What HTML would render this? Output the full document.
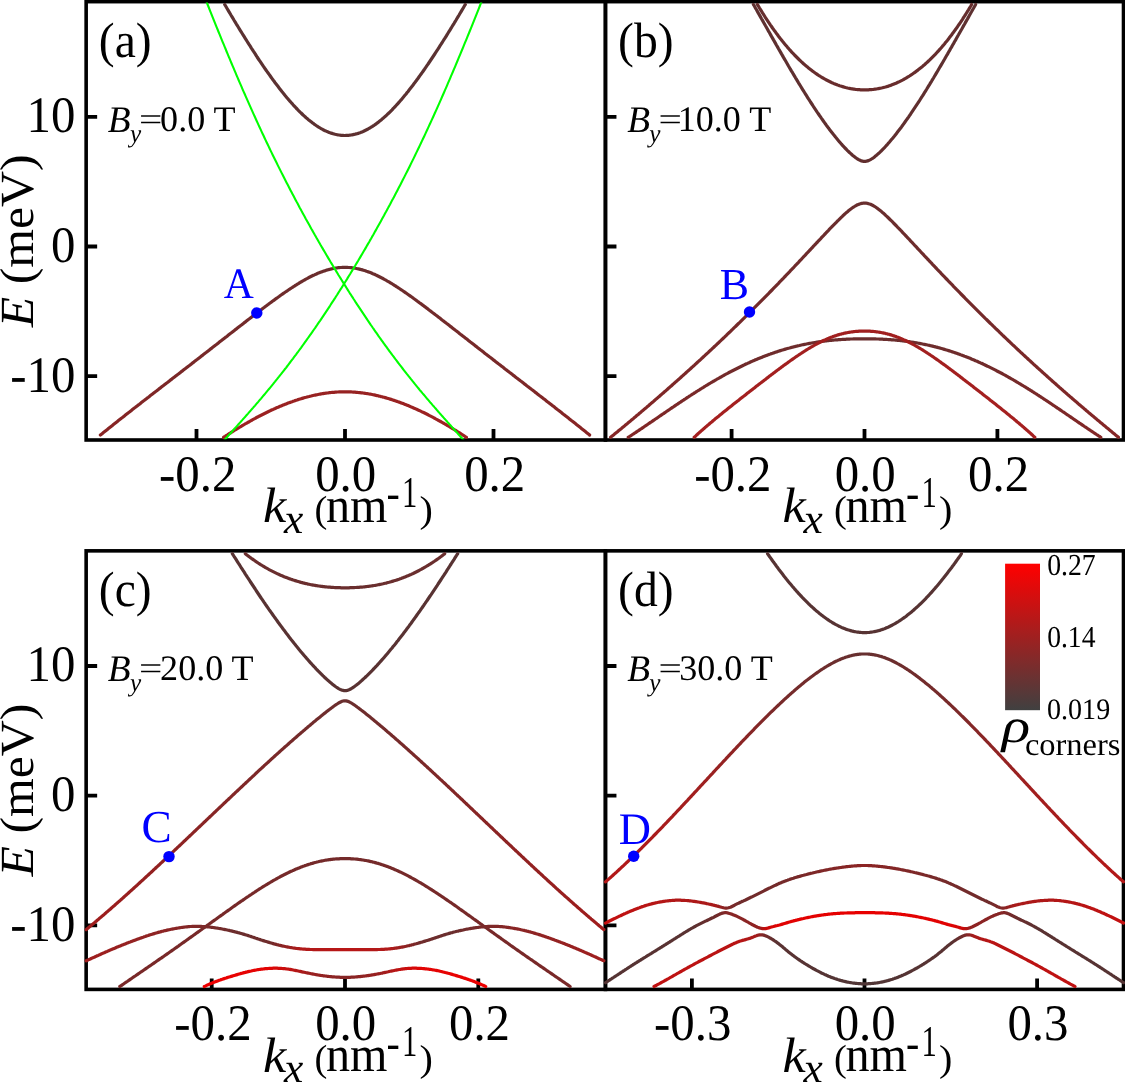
<!DOCTYPE html><html><head><meta charset="utf-8"><title>Band structure</title><style>html,body{margin:0;padding:0;background:#fff;overflow:hidden;}svg{display:block;}text{font-family:"Liberation Serif","Times New Roman",serif;text-rendering:geometricPrecision;}</style></head><body>
<svg width="1125" height="1082" viewBox="0 0 1125 1082">
<rect width="100%" height="100%" fill="#fff"/>
<defs>
<clipPath id="cpa"><rect x="81.15" y="2.45" width="529.30" height="436.75"/></clipPath>
<clipPath id="cpb"><rect x="600.45" y="2.45" width="528.05" height="436.75"/></clipPath>
<clipPath id="cpc"><rect x="81.15" y="551.65" width="529.30" height="436.95"/></clipPath>
<clipPath id="cpd"><rect x="600.45" y="551.65" width="528.05" height="436.95"/></clipPath>
<linearGradient id="g0" gradientUnits="userSpaceOnUse" x1="86.15" y1="0" x2="605.45" y2="0">
<stop offset="0.0000" stop-color="#573535"/>
<stop offset="0.4985" stop-color="#5e3030"/>
<stop offset="0.9972" stop-color="#573535"/>
</linearGradient>
<linearGradient id="g1" gradientUnits="userSpaceOnUse" x1="86.15" y1="0" x2="605.45" y2="0">
<stop offset="0.0000" stop-color="#8c2323"/>
<stop offset="0.1807" stop-color="#7a2828"/>
<stop offset="0.4985" stop-color="#682e2e"/>
<stop offset="0.8162" stop-color="#7a2828"/>
<stop offset="0.9972" stop-color="#8c2323"/>
</linearGradient>
<linearGradient id="g2" gradientUnits="userSpaceOnUse" x1="86.15" y1="0" x2="605.45" y2="0">
<stop offset="0.0000" stop-color="#a82020"/>
<stop offset="0.4985" stop-color="#962222"/>
<stop offset="0.9972" stop-color="#a82020"/>
</linearGradient>
<linearGradient id="g3" gradientUnits="userSpaceOnUse" x1="605.45" y1="0" x2="1123.50" y2="0">
<stop offset="0.0011" stop-color="#5e3030"/>
<stop offset="0.4991" stop-color="#6a2c2c"/>
<stop offset="0.9990" stop-color="#5e3030"/>
</linearGradient>
<linearGradient id="g4" gradientUnits="userSpaceOnUse" x1="605.45" y1="0" x2="1123.50" y2="0">
<stop offset="0.0011" stop-color="#583434"/>
<stop offset="0.4991" stop-color="#622e2e"/>
<stop offset="0.9990" stop-color="#583434"/>
</linearGradient>
<linearGradient id="g5" gradientUnits="userSpaceOnUse" x1="605.45" y1="0" x2="1123.50" y2="0">
<stop offset="0.0011" stop-color="#862626"/>
<stop offset="0.2790" stop-color="#742a2a"/>
<stop offset="0.4991" stop-color="#682e2e"/>
<stop offset="0.7211" stop-color="#742a2a"/>
<stop offset="0.9990" stop-color="#862626"/>
</linearGradient>
<linearGradient id="g6" gradientUnits="userSpaceOnUse" x1="605.45" y1="0" x2="1123.50" y2="0">
<stop offset="0.0011" stop-color="#862626"/>
<stop offset="0.2790" stop-color="#702b2b"/>
<stop offset="0.4991" stop-color="#6a2e2e"/>
<stop offset="0.7211" stop-color="#702b2b"/>
<stop offset="0.9990" stop-color="#862626"/>
</linearGradient>
<linearGradient id="g7" gradientUnits="userSpaceOnUse" x1="605.45" y1="0" x2="1123.50" y2="0">
<stop offset="0.0011" stop-color="#a82020"/>
<stop offset="0.4991" stop-color="#a01f1f"/>
<stop offset="0.9990" stop-color="#a82020"/>
</linearGradient>
<linearGradient id="g8" gradientUnits="userSpaceOnUse" x1="86.15" y1="0" x2="605.45" y2="0">
<stop offset="0.0000" stop-color="#6a2e2e"/>
<stop offset="0.4985" stop-color="#6a2e2e"/>
<stop offset="0.9972" stop-color="#6a2e2e"/>
</linearGradient>
<linearGradient id="g9" gradientUnits="userSpaceOnUse" x1="86.15" y1="0" x2="605.45" y2="0">
<stop offset="0.0000" stop-color="#553434"/>
<stop offset="0.4985" stop-color="#5a3232"/>
<stop offset="0.9972" stop-color="#553434"/>
</linearGradient>
<linearGradient id="g10" gradientUnits="userSpaceOnUse" x1="86.15" y1="0" x2="605.45" y2="0">
<stop offset="0.0000" stop-color="#a01c1c"/>
<stop offset="0.2192" stop-color="#8a2424"/>
<stop offset="0.4985" stop-color="#6a2e2e"/>
<stop offset="0.7777" stop-color="#8a2424"/>
<stop offset="0.9972" stop-color="#a01c1c"/>
</linearGradient>
<linearGradient id="g11" gradientUnits="userSpaceOnUse" x1="86.15" y1="0" x2="605.45" y2="0">
<stop offset="0.0000" stop-color="#7a2828"/>
<stop offset="0.4985" stop-color="#742a2a"/>
<stop offset="0.9972" stop-color="#7a2828"/>
</linearGradient>
<linearGradient id="g12" gradientUnits="userSpaceOnUse" x1="86.15" y1="0" x2="605.45" y2="0">
<stop offset="0.0000" stop-color="#a01e1e"/>
<stop offset="0.1807" stop-color="#882626"/>
<stop offset="0.2963" stop-color="#6a2e2e"/>
<stop offset="0.3540" stop-color="#702c2c"/>
<stop offset="0.4118" stop-color="#b01a1a"/>
<stop offset="0.4985" stop-color="#b81616"/>
<stop offset="0.5851" stop-color="#b01a1a"/>
<stop offset="0.6429" stop-color="#702c2c"/>
<stop offset="0.7007" stop-color="#6a2e2e"/>
<stop offset="0.8162" stop-color="#882626"/>
<stop offset="0.9972" stop-color="#a01e1e"/>
</linearGradient>
<linearGradient id="g13" gradientUnits="userSpaceOnUse" x1="86.15" y1="0" x2="605.45" y2="0">
<stop offset="0.2192" stop-color="#ee0000"/>
<stop offset="0.3502" stop-color="#e20404"/>
<stop offset="0.3925" stop-color="#c01212"/>
<stop offset="0.4311" stop-color="#9a2020"/>
<stop offset="0.4985" stop-color="#862626"/>
<stop offset="0.5659" stop-color="#9a2020"/>
<stop offset="0.6044" stop-color="#c01212"/>
<stop offset="0.6467" stop-color="#e20404"/>
<stop offset="0.7777" stop-color="#ee0000"/>
</linearGradient>
<linearGradient id="g14" gradientUnits="userSpaceOnUse" x1="605.45" y1="0" x2="1123.50" y2="0">
<stop offset="0.0011" stop-color="#553434"/>
<stop offset="0.4991" stop-color="#573333"/>
<stop offset="0.9990" stop-color="#553434"/>
</linearGradient>
<linearGradient id="g15" gradientUnits="userSpaceOnUse" x1="605.45" y1="0" x2="1123.50" y2="0">
<stop offset="0.0011" stop-color="#b41818"/>
<stop offset="0.1825" stop-color="#a01f1f"/>
<stop offset="0.3369" stop-color="#782a2a"/>
<stop offset="0.4991" stop-color="#663030"/>
<stop offset="0.6632" stop-color="#782a2a"/>
<stop offset="0.8176" stop-color="#a01f1f"/>
<stop offset="0.9990" stop-color="#b41818"/>
</linearGradient>
<linearGradient id="g16" gradientUnits="userSpaceOnUse" x1="605.45" y1="0" x2="1123.50" y2="0">
<stop offset="0.0011" stop-color="#c41010"/>
<stop offset="0.1053" stop-color="#b41616"/>
<stop offset="0.2115" stop-color="#a81a1a"/>
<stop offset="0.2346" stop-color="#822828"/>
<stop offset="0.2597" stop-color="#702c2c"/>
<stop offset="0.3562" stop-color="#762a2a"/>
<stop offset="0.4991" stop-color="#8c2424"/>
<stop offset="0.6439" stop-color="#762a2a"/>
<stop offset="0.7404" stop-color="#702c2c"/>
<stop offset="0.7655" stop-color="#822828"/>
<stop offset="0.7886" stop-color="#a81a1a"/>
<stop offset="0.8948" stop-color="#b41616"/>
<stop offset="0.9990" stop-color="#c41010"/>
</linearGradient>
<linearGradient id="g17" gradientUnits="userSpaceOnUse" x1="605.45" y1="0" x2="1123.50" y2="0">
<stop offset="0.0011" stop-color="#553434"/>
<stop offset="0.1632" stop-color="#5a3232"/>
<stop offset="0.2115" stop-color="#6e2c2c"/>
<stop offset="0.2346" stop-color="#862626"/>
<stop offset="0.2694" stop-color="#8a2424"/>
<stop offset="0.2945" stop-color="#902222"/>
<stop offset="0.3099" stop-color="#c80a0a"/>
<stop offset="0.3331" stop-color="#e00202"/>
<stop offset="0.4991" stop-color="#e80000"/>
<stop offset="0.6670" stop-color="#e00202"/>
<stop offset="0.6902" stop-color="#c80a0a"/>
<stop offset="0.7056" stop-color="#902222"/>
<stop offset="0.7307" stop-color="#8a2424"/>
<stop offset="0.7655" stop-color="#862626"/>
<stop offset="0.7886" stop-color="#6e2c2c"/>
<stop offset="0.8369" stop-color="#5a3232"/>
<stop offset="0.9990" stop-color="#553434"/>
</linearGradient>
<linearGradient id="g18" gradientUnits="userSpaceOnUse" x1="605.45" y1="0" x2="1123.50" y2="0">
<stop offset="0.0011" stop-color="#c41010"/>
<stop offset="0.2597" stop-color="#b81414"/>
<stop offset="0.2906" stop-color="#a41c1c"/>
<stop offset="0.3061" stop-color="#7a2a2a"/>
<stop offset="0.3292" stop-color="#5a3232"/>
<stop offset="0.4991" stop-color="#503636"/>
<stop offset="0.6709" stop-color="#5a3232"/>
<stop offset="0.6940" stop-color="#7a2a2a"/>
<stop offset="0.7095" stop-color="#a41c1c"/>
<stop offset="0.7404" stop-color="#b81414"/>
<stop offset="0.9990" stop-color="#c41010"/>
</linearGradient>
<linearGradient id="cbg" x1="0" y1="0" x2="0" y2="1"><stop offset="0" stop-color="#ff0000"/><stop offset="1" stop-color="#404040"/></linearGradient>
</defs>
<rect x="86.15" y="1.65" width="519.30" height="438.35" fill="none" stroke="#000" stroke-width="3.6"/>
<rect x="605.45" y="1.65" width="518.05" height="438.35" fill="none" stroke="#000" stroke-width="3.6"/>
<rect x="86.15" y="550.85" width="519.30" height="438.55" fill="none" stroke="#000" stroke-width="3.6"/>
<rect x="605.45" y="550.85" width="518.05" height="438.55" fill="none" stroke="#000" stroke-width="3.6"/>
<path d="M86.15,116.80h11.0 M86.15,246.50h11.0 M86.15,376.20h11.0 M605.45,116.80h11.0 M605.45,246.50h11.0 M605.45,376.20h11.0 M86.15,666.00h11.0 M86.15,795.70h11.0 M86.15,925.40h11.0 M605.45,666.00h11.0 M605.45,795.70h11.0 M605.45,925.40h11.0 M196.5,440.00v-11.0 M345.0,440.00v-11.0 M493.5,440.00v-11.0 M731.6,440.00v-11.0 M864.5,440.00v-11.0 M997.4,440.00v-11.0 M211.7,989.40v-11.0 M345.0,989.40v-11.0 M478.3,989.40v-11.0 M691.9,989.40v-11.0 M864.5,989.40v-11.0 M1037.1,989.40v-11.0" stroke="#000" stroke-width="3.8" fill="none"/>
<g clip-path="url(#cpa)" fill="none" stroke-linecap="round" stroke-linejoin="round">
<path d="M224.7,4.5 225.2,5.3 226.2,7.0 227.2,8.7 228.2,10.4 229.2,12.1 230.2,13.8 231.2,15.5 232.2,17.1 233.2,18.8 234.2,20.5 235.2,22.1 236.2,23.8 237.2,25.4 238.2,27.0 239.2,28.7 240.2,30.3 241.2,31.9 242.2,33.5 243.2,35.1 244.2,36.7 245.2,38.3 246.2,39.9 247.2,41.5 248.2,43.1 249.2,44.7 250.2,46.2 251.2,47.8 252.2,49.3 253.2,50.9 254.2,52.4 255.2,53.9 256.1,55.4 257.1,57.0 258.1,58.5 259.1,60.0 260.1,61.4 261.1,62.9 262.1,64.4 263.1,65.9 264.1,67.3 265.1,68.8 266.1,70.2 267.1,71.6 268.1,73.0 269.1,74.4 270.1,75.8 271.1,77.2 272.1,78.6 273.1,80.0 274.1,81.3 275.1,82.7 276.1,84.0 277.1,85.3 278.1,86.6 279.1,87.9 280.1,89.2 281.1,90.5 282.1,91.8 283.1,93.0 284.1,94.2 285.1,95.5 286.1,96.7 287.1,97.9 288.1,99.1 289.1,100.2 290.1,101.4 291.1,102.5 292.1,103.6 293.1,104.8 294.1,105.8 295.1,106.9 296.1,108.0 297.1,109.0 298.1,110.1 299.1,111.1 300.1,112.1 301.1,113.0 302.1,114.0 303.1,115.0 304.1,115.9 305.1,116.8 306.1,117.7 307.1,118.5 308.1,119.4 309.1,120.2 310.1,121.0 311.1,121.8 312.1,122.6 313.1,123.3 314.1,124.1 315.1,124.8 316.1,125.5 317.1,126.1 318.1,126.8 319.1,127.4 320.1,128.0 321.1,128.6 322.1,129.1 323.1,129.7 324.1,130.2 325.1,130.7 326.1,131.1 327.1,131.6 328.1,132.0 329.1,132.4 330.1,132.8 331.1,133.1 332.1,133.4 333.1,133.7 334.1,134.0 335.1,134.3 336.1,134.5 337.1,134.7 338.1,134.9 339.1,135.0 340.1,135.2 341.1,135.3 342.1,135.4 343.1,135.4 344.1,135.5 345.1,135.5 346.1,135.4 347.1,135.4 348.1,135.3 349.1,135.3 350.1,135.1 351.1,135.0 352.1,134.8 353.1,134.7 354.1,134.4 355.1,134.2 356.1,133.9 357.1,133.7 358.1,133.4 359.1,133.0 360.1,132.7 361.1,132.3 362.1,131.9 363.1,131.5 364.1,131.0 365.1,130.5 366.1,130.0 367.1,129.5 368.1,129.0 369.1,128.4 370.1,127.8 371.1,127.2 372.1,126.6 373.1,125.9 374.1,125.3 375.1,124.6 376.1,123.9 377.1,123.1 378.1,122.4 379.1,121.6 380.1,120.8 381.1,120.0 382.1,119.1 383.1,118.3 384.1,117.4 385.1,116.5 386.1,115.6 387.1,114.7 388.1,113.7 389.1,112.8 390.1,111.8 391.1,110.8 392.1,109.8 393.1,108.7 394.1,107.7 395.1,106.6 396.1,105.5 397.1,104.4 398.1,103.3 399.1,102.2 400.1,101.0 401.1,99.9 402.1,98.7 403.1,97.5 404.1,96.3 405.1,95.1 406.1,93.9 407.1,92.6 408.1,91.4 409.1,90.1 410.1,88.8 411.1,87.5 412.1,86.2 413.1,84.9 414.1,83.6 415.1,82.3 416.1,80.9 417.1,79.6 418.1,78.2 419.1,76.8 420.1,75.4 421.1,74.0 422.1,72.6 423.1,71.2 424.1,69.8 425.1,68.3 426.1,66.9 427.1,65.4 428.1,64.0 429.1,62.5 430.1,61.0 431.1,59.5 432.1,58.0 433.1,56.5 434.1,55.0 435.1,53.5 436.1,51.9 437.1,50.4 438.1,48.9 439.1,47.3 440.1,45.7 441.1,44.2 442.1,42.6 443.1,41.0 444.1,39.4 445.1,37.9 446.1,36.3 447.1,34.7 448.1,33.0 449.1,31.4 450.1,29.8 451.1,28.2 452.1,26.5 453.1,24.9 454.1,23.3 455.1,21.6 456.1,20.0 457.1,18.3 458.1,16.6 459.1,15.0 460.1,13.3 461.1,11.6 462.1,9.9 463.1,8.2 464.1,6.5 465.1,4.8 465.3,4.5" stroke="url(#g0)" stroke-width="3.2"/>
<path d="M100.4,435.0 101.4,434.2 102.4,433.4 103.4,432.6 104.4,431.8 105.4,431.0 106.4,430.2 107.4,429.4 108.4,428.6 109.4,427.8 110.4,427.0 111.4,426.2 112.4,425.4 113.4,424.6 114.4,423.8 115.4,423.0 116.4,422.2 117.4,421.4 118.4,420.6 119.4,419.8 120.4,419.0 121.4,418.2 122.4,417.5 123.4,416.7 124.4,415.9 125.4,415.1 126.4,414.3 127.4,413.5 128.4,412.7 129.4,412.0 130.4,411.2 131.4,410.4 132.4,409.6 133.4,408.8 134.4,408.0 135.4,407.3 136.4,406.5 137.4,405.7 138.4,404.9 139.4,404.2 140.4,403.4 141.4,402.6 142.4,401.8 143.4,401.0 144.4,400.3 145.4,399.5 146.4,398.7 147.4,397.9 148.4,397.2 149.4,396.4 150.4,395.6 151.4,394.8 152.4,394.1 153.4,393.3 154.4,392.5 155.4,391.7 156.4,391.0 157.4,390.2 158.4,389.4 159.4,388.6 160.4,387.9 161.4,387.1 162.4,386.3 163.4,385.6 164.4,384.8 165.4,384.0 166.4,383.2 167.4,382.5 168.4,381.7 169.4,380.9 170.4,380.1 171.4,379.4 172.4,378.6 173.4,377.8 174.4,377.1 175.4,376.3 176.4,375.5 177.4,374.7 178.4,374.0 179.4,373.2 180.4,372.4 181.4,371.6 182.4,370.9 183.4,370.1 184.4,369.3 185.4,368.6 186.4,367.8 187.4,367.0 188.4,366.2 189.4,365.5 190.4,364.7 191.4,363.9 192.4,363.1 193.4,362.4 194.4,361.6 195.4,360.8 196.4,360.0 197.4,359.3 198.4,358.5 199.4,357.7 200.4,356.9 201.4,356.1 202.4,355.4 203.4,354.6 204.4,353.8 205.4,353.0 206.4,352.3 207.4,351.5 208.4,350.7 209.4,349.9 210.4,349.1 211.4,348.4 212.4,347.6 213.4,346.8 214.4,346.0 215.4,345.2 216.4,344.5 217.4,343.7 218.4,342.9 219.4,342.1 220.4,341.3 221.4,340.6 222.4,339.8 223.4,339.0 224.4,338.2 225.4,337.4 226.4,336.7 227.4,335.9 228.4,335.1 229.4,334.3 230.4,333.5 231.4,332.8 232.4,332.0 233.4,331.2 234.4,330.4 235.4,329.6 236.4,328.9 237.4,328.1 238.4,327.3 239.4,326.5 240.4,325.7 241.4,325.0 242.4,324.2 243.4,323.4 244.4,322.6 245.4,321.9 246.4,321.1 247.4,320.3 248.4,319.5 249.4,318.8 250.4,318.0 251.4,317.2 252.4,316.4 253.4,315.7 254.4,314.9 255.4,314.1 256.4,313.4 257.4,312.6 258.4,311.8 259.4,311.1 260.4,310.3 261.4,309.6 262.4,308.8 263.4,308.0 264.4,307.3 265.4,306.5 266.4,305.8 267.4,305.0 268.4,304.3 269.4,303.5 270.4,302.8 271.4,302.1 272.4,301.3 273.4,300.6 274.4,299.9 275.4,299.1 276.4,298.4 277.4,297.7 278.4,297.0 279.4,296.3 280.4,295.5 281.4,294.8 282.4,294.1 283.4,293.4 284.4,292.7 285.4,292.0 286.4,291.4 287.4,290.7 288.4,290.0 289.4,289.3 290.4,288.7 291.4,288.0 292.4,287.4 293.4,286.7 294.4,286.1 295.4,285.4 296.4,284.8 297.4,284.2 298.4,283.6 299.4,282.9 300.4,282.3 301.4,281.8 302.4,281.2 303.4,280.6 304.4,280.0 305.4,279.5 306.4,278.9 307.4,278.4 308.4,277.8 309.4,277.3 310.4,276.8 311.4,276.3 312.4,275.8 313.4,275.3 314.4,274.9 315.4,274.4 316.4,274.0 317.4,273.5 318.4,273.1 319.4,272.7 320.4,272.3 321.4,271.9 322.4,271.6 323.4,271.2 324.4,270.9 325.4,270.6 326.4,270.2 327.4,269.9 328.4,269.7 329.4,269.4 330.4,269.2 331.4,268.9 332.4,268.7 333.4,268.5 334.4,268.3 335.4,268.1 336.4,268.0 337.4,267.8 338.4,267.7 339.4,267.6 340.4,267.5 341.4,267.5 342.4,267.4 343.4,267.4 344.4,267.4 345.4,267.4 346.4,267.4 347.4,267.4 348.4,267.5 349.4,267.5 350.4,267.6 351.4,267.7 352.4,267.8 353.4,268.0 354.4,268.1 355.4,268.3 356.4,268.5 357.4,268.7 358.4,268.9 359.4,269.1 360.4,269.4 361.4,269.6 362.4,269.9 363.4,270.2 364.4,270.5 365.4,270.8 366.4,271.2 367.4,271.5 368.4,271.9 369.4,272.2 370.4,272.6 371.4,273.0 372.4,273.5 373.4,273.9 374.4,274.3 375.4,274.8 376.4,275.2 377.4,275.7 378.4,276.2 379.4,276.7 380.4,277.2 381.4,277.7 382.4,278.3 383.4,278.8 384.4,279.4 385.4,279.9 386.4,280.5 387.4,281.1 388.4,281.6 389.4,282.2 390.4,282.8 391.4,283.4 392.4,284.0 393.4,284.7 394.4,285.3 395.4,285.9 396.4,286.6 397.4,287.2 398.4,287.9 399.4,288.5 400.4,289.2 401.4,289.9 402.4,290.5 403.4,291.2 404.4,291.9 405.4,292.6 406.4,293.3 407.4,294.0 408.4,294.7 409.4,295.4 410.4,296.1 411.4,296.8 412.4,297.5 413.4,298.3 414.4,299.0 415.4,299.7 416.4,300.4 417.4,301.2 418.4,301.9 419.4,302.7 420.4,303.4 421.4,304.1 422.4,304.9 423.4,305.6 424.4,306.4 425.4,307.1 426.4,307.9 427.4,308.6 428.4,309.4 429.4,310.2 430.4,310.9 431.4,311.7 432.4,312.5 433.4,313.2 434.4,314.0 435.4,314.8 436.4,315.5 437.4,316.3 438.4,317.1 439.4,317.8 440.4,318.6 441.4,319.4 442.4,320.2 443.4,320.9 444.4,321.7 445.4,322.5 446.4,323.3 447.4,324.0 448.4,324.8 449.4,325.6 450.4,326.4 451.4,327.1 452.4,327.9 453.4,328.7 454.4,329.5 455.4,330.3 456.4,331.0 457.4,331.8 458.4,332.6 459.4,333.4 460.4,334.2 461.4,334.9 462.4,335.7 463.4,336.5 464.4,337.3 465.4,338.1 466.4,338.8 467.4,339.6 468.4,340.4 469.4,341.2 470.4,342.0 471.4,342.7 472.4,343.5 473.4,344.3 474.4,345.1 475.4,345.9 476.4,346.6 477.4,347.4 478.4,348.2 479.4,349.0 480.4,349.8 481.4,350.5 482.4,351.3 483.4,352.1 484.4,352.9 485.4,353.7 486.4,354.4 487.4,355.2 488.4,356.0 489.4,356.8 490.4,357.5 491.4,358.3 492.4,359.1 493.4,359.9 494.4,360.6 495.4,361.4 496.4,362.2 497.4,363.0 498.4,363.8 499.4,364.5 500.4,365.3 501.4,366.1 502.4,366.8 503.4,367.6 504.4,368.4 505.4,369.2 506.4,369.9 507.4,370.7 508.4,371.5 509.4,372.3 510.4,373.0 511.4,373.8 512.4,374.6 513.4,375.4 514.4,376.1 515.4,376.9 516.4,377.7 517.4,378.4 518.4,379.2 519.4,380.0 520.4,380.8 521.4,381.5 522.4,382.3 523.4,383.1 524.4,383.9 525.4,384.6 526.4,385.4 527.4,386.2 528.4,386.9 529.4,387.7 530.4,388.5 531.4,389.3 532.4,390.0 533.4,390.8 534.4,391.6 535.4,392.4 536.4,393.1 537.4,393.9 538.4,394.7 539.4,395.5 540.4,396.2 541.4,397.0 542.4,397.8 543.4,398.6 544.4,399.3 545.4,400.1 546.4,400.9 547.4,401.7 548.4,402.4 549.4,403.2 550.4,404.0 551.4,404.8 552.4,405.6 553.4,406.3 554.4,407.1 555.4,407.9 556.4,408.7 557.4,409.5 558.4,410.2 559.4,411.0 560.4,411.8 561.4,412.6 562.4,413.4 563.4,414.2 564.4,414.9 565.4,415.7 566.4,416.5 567.4,417.3 568.4,418.1 569.4,418.9 570.4,419.7 571.4,420.5 572.4,421.2 573.4,422.0 574.4,422.8 575.4,423.6 576.4,424.4 577.4,425.2 578.4,426.0 579.4,426.8 580.4,427.6 581.4,428.4 582.4,429.2 583.4,430.0 584.4,430.8 585.4,431.6 586.4,432.4 587.4,433.2 588.4,434.0 589.4,434.8 589.6,435.0" stroke="url(#g1)" stroke-width="3.2"/>
<path d="M223.6,437.3 224.2,436.9 225.2,436.3 226.2,435.6 227.2,435.0 228.2,434.3 229.2,433.7 230.2,433.1 231.2,432.4 232.2,431.8 233.2,431.2 234.2,430.5 235.2,429.9 236.2,429.3 237.2,428.7 238.2,428.1 239.2,427.5 240.2,426.9 241.2,426.3 242.2,425.7 243.2,425.1 244.2,424.5 245.2,423.9 246.2,423.4 247.2,422.8 248.2,422.2 249.2,421.7 250.2,421.1 251.2,420.5 252.2,420.0 253.2,419.4 254.2,418.9 255.2,418.4 256.1,417.8 257.1,417.3 258.1,416.8 259.1,416.2 260.1,415.7 261.1,415.2 262.1,414.7 263.1,414.2 264.1,413.7 265.1,413.2 266.1,412.7 267.1,412.2 268.1,411.7 269.1,411.2 270.1,410.8 271.1,410.3 272.1,409.8 273.1,409.4 274.1,408.9 275.1,408.5 276.1,408.0 277.1,407.6 278.1,407.2 279.1,406.7 280.1,406.3 281.1,405.9 282.1,405.5 283.1,405.1 284.1,404.7 285.1,404.3 286.1,403.9 287.1,403.5 288.1,403.1 289.1,402.7 290.1,402.4 291.1,402.0 292.1,401.7 293.1,401.3 294.1,401.0 295.1,400.6 296.1,400.3 297.1,400.0 298.1,399.6 299.1,399.3 300.1,399.0 301.1,398.7 302.1,398.4 303.1,398.1 304.1,397.8 305.1,397.5 306.1,397.3 307.1,397.0 308.1,396.7 309.1,396.5 310.1,396.2 311.1,396.0 312.1,395.7 313.1,395.5 314.1,395.3 315.1,395.1 316.1,394.9 317.1,394.7 318.1,394.5 319.1,394.3 320.1,394.1 321.1,393.9 322.1,393.7 323.1,393.6 324.1,393.4 325.1,393.3 326.1,393.1 327.1,393.0 328.1,392.9 329.1,392.7 330.1,392.6 331.1,392.5 332.1,392.4 333.1,392.3 334.1,392.3 335.1,392.2 336.1,392.1 337.1,392.0 338.1,392.0 339.1,391.9 340.1,391.9 341.1,391.9 342.1,391.8 343.1,391.8 344.1,391.8 345.1,391.8 346.1,391.8 347.1,391.8 348.1,391.8 349.1,391.9 350.1,391.9 351.1,391.9 352.1,392.0 353.1,392.1 354.1,392.1 355.1,392.2 356.1,392.3 357.1,392.4 358.1,392.5 359.1,392.6 360.1,392.7 361.1,392.8 362.1,392.9 363.1,393.0 364.1,393.2 365.1,393.3 366.1,393.5 367.1,393.6 368.1,393.8 369.1,394.0 370.1,394.1 371.1,394.3 372.1,394.5 373.1,394.7 374.1,394.9 375.1,395.1 376.1,395.4 377.1,395.6 378.1,395.8 379.1,396.1 380.1,396.3 381.1,396.6 382.1,396.8 383.1,397.1 384.1,397.3 385.1,397.6 386.1,397.9 387.1,398.2 388.1,398.5 389.1,398.8 390.1,399.1 391.1,399.4 392.1,399.7 393.1,400.1 394.1,400.4 395.1,400.7 396.1,401.1 397.1,401.4 398.1,401.8 399.1,402.1 400.1,402.5 401.1,402.9 402.1,403.2 403.1,403.6 404.1,404.0 405.1,404.4 406.1,404.8 407.1,405.2 408.1,405.6 409.1,406.0 410.1,406.4 411.1,406.9 412.1,407.3 413.1,407.7 414.1,408.2 415.1,408.6 416.1,409.1 417.1,409.5 418.1,410.0 419.1,410.4 420.1,410.9 421.1,411.4 422.1,411.9 423.1,412.3 424.1,412.8 425.1,413.3 426.1,413.8 427.1,414.3 428.1,414.8 429.1,415.4 430.1,415.9 431.1,416.4 432.1,416.9 433.1,417.4 434.1,418.0 435.1,418.5 436.1,419.1 437.1,419.6 438.1,420.2 439.1,420.7 440.1,421.3 441.1,421.8 442.1,422.4 443.1,423.0 444.1,423.5 445.1,424.1 446.1,424.7 447.1,425.3 448.1,425.9 449.1,426.5 450.1,427.1 451.1,427.7 452.1,428.3 453.1,428.9 454.1,429.5 455.1,430.1 456.1,430.7 457.1,431.4 458.1,432.0 459.1,432.6 460.1,433.2 461.1,433.9 462.1,434.5 463.1,435.2 464.1,435.8 465.1,436.5 466.1,437.1 466.4,437.3" stroke="url(#g2)" stroke-width="3.2"/>
<path d="M203.6,-5.9 204.6,-3.3 205.6,-0.7 206.6,1.9 207.6,4.5 208.6,7.0 209.6,9.6 210.6,12.1 211.6,14.6 212.6,17.1 213.6,19.6 214.6,22.1 215.6,24.6 216.6,27.1 217.6,29.5 218.6,32.0 219.6,34.4 220.6,36.9 221.6,39.3 222.6,41.8 223.6,44.2 224.6,46.6 225.6,49.0 226.6,51.5 227.6,53.9 228.6,56.3 229.6,58.7 230.6,61.1 231.6,63.5 232.6,65.8 233.6,68.2 234.6,70.6 235.6,72.9 236.6,75.3 237.6,77.6 238.6,80.0 239.6,82.3 240.6,84.6 241.6,86.9 242.6,89.3 243.6,91.6 244.6,93.8 245.6,96.1 246.6,98.4 247.6,100.7 248.6,102.9 249.6,105.2 250.6,107.4 251.6,109.7 252.6,111.9 253.6,114.1 254.6,116.3 255.6,118.5 256.6,120.7 257.6,122.9 258.6,125.1 259.6,127.2 260.6,129.4 261.6,131.6 262.6,133.7 263.6,135.8 264.6,138.0 265.6,140.1 266.6,142.2 267.6,144.3 268.6,146.4 269.6,148.5 270.6,150.6 271.6,152.6 272.6,154.7 273.6,156.7 274.6,158.8 275.6,160.8 276.6,162.8 277.6,164.9 278.6,166.9 279.6,168.9 280.6,170.9 281.6,172.9 282.6,174.8 283.6,176.8 284.6,178.8 285.6,180.7 286.6,182.7 287.6,184.6 288.6,186.5 289.6,188.5 290.6,190.4 291.6,192.3 292.6,194.2 293.6,196.1 294.6,198.0 295.6,199.9 296.6,201.8 297.6,203.6 298.6,205.5 299.6,207.4 300.6,209.2 301.6,211.1 302.6,212.9 303.6,214.7 304.6,216.5 305.6,218.4 306.6,220.2 307.6,222.0 308.6,223.8 309.6,225.6 310.6,227.4 311.6,229.2 312.6,230.9 313.6,232.7 314.6,234.5 315.6,236.2 316.6,238.0 317.6,239.7 318.6,241.5 319.6,243.2 320.6,245.0 321.6,246.7 322.6,248.4 323.6,250.1 324.6,251.8 325.6,253.5 326.6,255.2 327.6,256.9 328.6,258.6 329.6,260.3 330.6,262.0 331.6,263.6 332.6,265.3 333.6,267.0 334.6,268.6 335.6,270.3 336.6,271.9 337.6,273.5 338.6,275.2 339.6,276.8 340.6,278.4 341.6,280.0 342.6,281.6 343.6,283.2 344.6,284.8 345.6,286.4 346.6,288.0 347.6,289.6 348.6,291.2 349.6,292.8 350.6,294.3 351.6,295.9 352.6,297.4 353.6,299.0 354.6,300.5 355.6,302.1 356.6,303.6 357.6,305.2 358.6,306.7 359.6,308.2 360.6,309.7 361.6,311.2 362.6,312.7 363.6,314.2 364.6,315.7 365.6,317.2 366.6,318.7 367.6,320.2 368.6,321.6 369.6,323.1 370.6,324.6 371.6,326.0 372.6,327.5 373.6,328.9 374.6,330.4 375.6,331.8 376.6,333.2 377.6,334.6 378.6,336.1 379.6,337.5 380.6,338.9 381.6,340.3 382.6,341.7 383.6,343.1 384.6,344.5 385.6,345.8 386.6,347.2 387.6,348.6 388.6,350.0 389.6,351.3 390.6,352.7 391.6,354.0 392.6,355.4 393.6,356.7 394.6,358.0 395.6,359.4 396.6,360.7 397.6,362.0 398.6,363.3 399.6,364.6 400.6,365.9 401.6,367.2 402.6,368.5 403.6,369.8 404.6,371.1 405.6,372.4 406.6,373.7 407.6,374.9 408.6,376.2 409.6,377.4 410.6,378.7 411.6,379.9 412.6,381.2 413.6,382.4 414.6,383.7 415.6,384.9 416.6,386.1 417.6,387.3 418.6,388.5 419.6,389.8 420.6,391.0 421.6,392.2 422.6,393.4 423.6,394.5 424.6,395.7 425.6,396.9 426.6,398.1 427.6,399.3 428.6,400.4 429.6,401.6 430.6,402.8 431.6,403.9 432.6,405.1 433.6,406.2 434.6,407.4 435.6,408.5 436.6,409.7 437.6,410.8 438.6,412.0 439.6,413.1 440.6,414.3 441.6,415.4 442.6,416.5 443.6,417.6 444.6,418.8 445.6,419.9 446.6,421.0 447.6,422.2 448.6,423.3 449.6,424.4 450.6,425.5 451.6,426.6 452.6,427.8 453.6,428.9 454.6,430.0 455.6,431.1 456.6,432.2 457.6,433.4 458.6,434.5 459.6,435.6 460.6,436.7 461.6,437.8 462.6,439.0 463.6,440.1 464.6,441.2 465.6,442.3 466.6,443.4 467.6,444.6 468.0,445.0" stroke="#00ff00" stroke-width="2.1"/>
<path d="M220.0,445.0 221.0,443.9 222.0,442.8 223.0,441.6 224.0,440.5 225.0,439.4 226.0,438.3 227.0,437.2 228.0,436.0 229.0,434.9 230.0,433.8 231.0,432.7 232.0,431.6 233.0,430.4 234.0,429.3 235.0,428.2 236.0,427.1 237.0,426.0 238.0,424.8 239.0,423.7 240.0,422.6 241.0,421.5 242.0,420.4 243.0,419.2 244.0,418.1 245.0,417.0 246.0,415.8 247.0,414.7 248.0,413.6 249.0,412.4 250.0,411.3 251.0,410.1 252.0,409.0 253.0,407.9 254.0,406.7 255.0,405.6 256.0,404.4 257.0,403.2 258.0,402.1 259.0,400.9 260.0,399.7 261.0,398.6 262.0,397.4 263.0,396.2 264.0,395.0 265.0,393.8 266.0,392.6 267.0,391.4 268.0,390.2 269.0,389.0 270.0,387.8 271.0,386.6 272.0,385.4 273.0,384.2 274.0,382.9 275.0,381.7 276.0,380.4 277.0,379.2 278.0,377.9 279.0,376.7 280.0,375.4 281.0,374.2 282.0,372.9 283.0,371.6 284.0,370.3 285.0,369.0 286.0,367.8 287.0,366.5 288.0,365.2 289.0,363.8 290.0,362.5 291.0,361.2 292.0,359.9 293.0,358.6 294.0,357.2 295.0,355.9 296.0,354.6 297.0,353.2 298.0,351.9 299.0,350.5 300.0,349.1 301.0,347.8 302.0,346.4 303.0,345.0 304.0,343.6 305.0,342.2 306.0,340.8 307.0,339.4 308.0,338.0 309.0,336.6 310.0,335.2 311.0,333.8 312.0,332.4 313.0,330.9 314.0,329.5 315.0,328.1 316.0,326.6 317.0,325.2 318.0,323.7 319.0,322.2 320.0,320.8 321.0,319.3 322.0,317.8 323.0,316.3 324.0,314.8 325.0,313.3 326.0,311.8 327.0,310.3 328.0,308.8 329.0,307.3 330.0,305.8 331.0,304.2 332.0,302.7 333.0,301.2 334.0,299.6 335.0,298.1 336.0,296.5 337.0,295.0 338.0,293.4 339.0,291.8 340.0,290.2 341.0,288.7 342.0,287.1 343.0,285.5 344.0,283.9 345.0,282.3 346.0,280.7 347.0,279.1 348.0,277.4 349.0,275.8 350.0,274.2 351.0,272.5 352.0,270.9 353.0,269.3 354.0,267.6 355.0,266.0 356.0,264.3 357.0,262.6 358.0,261.0 359.0,259.3 360.0,257.6 361.0,255.9 362.0,254.2 363.0,252.5 364.0,250.8 365.0,249.1 366.0,247.4 367.0,245.6 368.0,243.9 369.0,242.2 370.0,240.4 371.0,238.7 372.0,236.9 373.0,235.2 374.0,233.4 375.0,231.6 376.0,229.9 377.0,228.1 378.0,226.3 379.0,224.5 380.0,222.7 381.0,220.9 382.0,219.1 383.0,217.3 384.0,215.5 385.0,213.6 386.0,211.8 387.0,209.9 388.0,208.1 389.0,206.2 390.0,204.4 391.0,202.5 392.0,200.6 393.0,198.8 394.0,196.9 395.0,195.0 396.0,193.1 397.0,191.2 398.0,189.2 399.0,187.3 400.0,185.4 401.0,183.5 402.0,181.5 403.0,179.6 404.0,177.6 405.0,175.6 406.0,173.6 407.0,171.7 408.0,169.7 409.0,167.7 410.0,165.7 411.0,163.6 412.0,161.6 413.0,159.6 414.0,157.6 415.0,155.5 416.0,153.4 417.0,151.4 418.0,149.3 419.0,147.2 420.0,145.1 421.0,143.0 422.0,140.9 423.0,138.8 424.0,136.7 425.0,134.6 426.0,132.4 427.0,130.3 428.0,128.1 429.0,125.9 430.0,123.8 431.0,121.6 432.0,119.4 433.0,117.2 434.0,115.0 435.0,112.8 436.0,110.6 437.0,108.3 438.0,106.1 439.0,103.8 440.0,101.6 441.0,99.3 442.0,97.0 443.0,94.8 444.0,92.5 445.0,90.2 446.0,87.9 447.0,85.6 448.0,83.2 449.0,80.9 450.0,78.6 451.0,76.2 452.0,73.9 453.0,71.5 454.0,69.2 455.0,66.8 456.0,64.4 457.0,62.0 458.0,59.6 459.0,57.2 460.0,54.8 461.0,52.4 462.0,50.0 463.0,47.6 464.0,45.2 465.0,42.7 466.0,40.3 467.0,37.9 468.0,35.4 469.0,33.0 470.0,30.5 471.0,28.1 472.0,25.6 473.0,23.1 474.0,20.6 475.0,18.1 476.0,15.6 477.0,13.1 478.0,10.6 479.0,8.1 480.0,5.5 481.0,2.9 482.0,0.4 483.0,-2.2 484.0,-4.9 484.4,-5.9" stroke="#00ff00" stroke-width="2.1"/>
</g>
<g clip-path="url(#cpb)" fill="none" stroke-linecap="round" stroke-linejoin="round">
<path d="M757.4,4.5 757.5,4.6 758.5,6.3 759.5,8.0 760.5,9.6 761.5,11.2 762.5,12.9 763.5,14.4 764.5,16.0 765.5,17.6 766.5,19.1 767.5,20.6 768.5,22.1 769.5,23.6 770.5,25.1 771.5,26.5 772.5,28.0 773.5,29.4 774.5,30.8 775.5,32.1 776.5,33.5 777.5,34.8 778.5,36.2 779.5,37.5 780.5,38.8 781.5,40.0 782.5,41.3 783.5,42.5 784.5,43.7 785.5,44.9 786.5,46.1 787.5,47.3 788.5,48.4 789.5,49.6 790.5,50.7 791.5,51.8 792.5,52.9 793.5,53.9 794.5,55.0 795.5,56.0 796.5,57.0 797.5,58.0 798.5,59.0 799.5,60.0 800.5,60.9 801.5,61.9 802.5,62.8 803.5,63.7 804.5,64.6 805.5,65.4 806.5,66.3 807.5,67.1 808.5,67.9 809.5,68.7 810.5,69.5 811.5,70.3 812.5,71.1 813.5,71.8 814.5,72.5 815.5,73.2 816.5,73.9 817.5,74.6 818.5,75.3 819.5,75.9 820.5,76.5 821.5,77.2 822.5,77.8 823.5,78.3 824.5,78.9 825.5,79.5 826.5,80.0 827.5,80.5 828.5,81.0 829.5,81.5 830.5,82.0 831.5,82.5 832.5,82.9 833.5,83.4 834.5,83.8 835.5,84.2 836.5,84.6 837.5,85.0 838.5,85.3 839.5,85.7 840.5,86.0 841.5,86.3 842.5,86.6 843.5,86.9 844.5,87.2 845.5,87.5 846.5,87.7 847.5,88.0 848.5,88.2 849.5,88.4 850.5,88.6 851.5,88.8 852.5,88.9 853.5,89.1 854.5,89.2 855.5,89.4 856.5,89.5 857.5,89.6 858.5,89.7 859.5,89.7 860.5,89.8 861.5,89.8 862.5,89.9 863.5,89.9 864.5,89.9 865.5,89.9 866.5,89.9 867.5,89.8 868.5,89.8 869.5,89.7 870.5,89.7 871.5,89.6 872.5,89.5 873.5,89.4 874.5,89.2 875.5,89.1 876.5,89.0 877.5,88.8 878.5,88.6 879.5,88.4 880.5,88.2 881.5,88.0 882.5,87.8 883.5,87.5 884.5,87.2 885.5,87.0 886.5,86.7 887.5,86.4 888.5,86.1 889.5,85.7 890.5,85.4 891.5,85.0 892.5,84.6 893.5,84.2 894.5,83.8 895.5,83.4 896.5,83.0 897.5,82.5 898.5,82.1 899.5,81.6 900.5,81.1 901.5,80.6 902.5,80.1 903.5,79.5 904.5,79.0 905.5,78.4 906.5,77.8 907.5,77.2 908.5,76.6 909.5,76.0 910.5,75.3 911.5,74.7 912.5,74.0 913.5,73.3 914.5,72.6 915.5,71.9 916.5,71.1 917.5,70.4 918.5,69.6 919.5,68.8 920.5,68.0 921.5,67.2 922.5,66.4 923.5,65.5 924.5,64.7 925.5,63.8 926.5,62.9 927.5,62.0 928.5,61.0 929.5,60.1 930.5,59.1 931.5,58.1 932.5,57.1 933.5,56.1 934.5,55.1 935.5,54.1 936.5,53.0 937.5,51.9 938.5,50.8 939.5,49.7 940.5,48.6 941.5,47.4 942.5,46.2 943.5,45.1 944.5,43.9 945.5,42.6 946.5,41.4 947.5,40.2 948.5,38.9 949.5,37.6 950.5,36.3 951.5,35.0 952.5,33.6 953.5,32.3 954.5,30.9 955.5,29.5 956.5,28.1 957.5,26.7 958.5,25.2 959.5,23.8 960.5,22.3 961.5,20.8 962.5,19.3 963.5,17.7 964.5,16.2 965.5,14.6 966.5,13.0 967.5,11.4 968.5,9.8 969.5,8.1 970.5,6.5 971.5,4.8 971.6,4.5" stroke="url(#g3)" stroke-width="3.2"/>
<path d="M753.4,4.5 753.5,4.6 754.5,6.3 755.5,8.1 756.5,9.8 757.5,11.6 758.5,13.4 759.5,15.1 760.5,16.9 761.5,18.7 762.5,20.4 763.5,22.2 764.5,24.0 765.5,25.8 766.5,27.5 767.5,29.3 768.5,31.1 769.5,32.8 770.5,34.6 771.5,36.4 772.5,38.1 773.5,39.9 774.5,41.6 775.5,43.4 776.5,45.2 777.5,46.9 778.5,48.7 779.5,50.4 780.5,52.1 781.5,53.9 782.5,55.6 783.5,57.4 784.5,59.1 785.5,60.8 786.5,62.5 787.5,64.2 788.5,66.0 789.5,67.7 790.5,69.4 791.5,71.1 792.5,72.7 793.5,74.4 794.5,76.1 795.5,77.8 796.5,79.4 797.5,81.1 798.5,82.8 799.5,84.4 800.5,86.0 801.5,87.7 802.5,89.3 803.5,90.9 804.5,92.5 805.5,94.1 806.5,95.7 807.5,97.3 808.5,98.9 809.5,100.4 810.5,102.0 811.5,103.5 812.5,105.0 813.5,106.6 814.5,108.1 815.5,109.6 816.5,111.1 817.5,112.6 818.5,114.0 819.5,115.5 820.5,116.9 821.5,118.4 822.5,119.8 823.5,121.2 824.5,122.6 825.5,124.0 826.5,125.4 827.5,126.7 828.5,128.1 829.5,129.4 830.5,130.7 831.5,132.0 832.5,133.3 833.5,134.6 834.5,135.8 835.5,137.1 836.5,138.3 837.5,139.5 838.5,140.7 839.5,141.9 840.5,143.0 841.5,144.2 842.5,145.3 843.5,146.4 844.5,147.5 845.5,148.5 846.5,149.5 847.5,150.6 848.5,151.5 849.5,152.5 850.5,153.4 851.5,154.3 852.5,155.2 853.5,156.0 854.5,156.8 855.5,157.6 856.5,158.3 857.5,159.0 858.5,159.5 859.5,160.1 860.5,160.5 861.5,160.9 862.5,161.2 863.5,161.3 864.5,161.4 865.5,161.3 866.5,161.2 867.5,160.9 868.5,160.6 869.5,160.1 870.5,159.6 871.5,159.0 872.5,158.4 873.5,157.7 874.5,156.9 875.5,156.1 876.5,155.3 877.5,154.4 878.5,153.5 879.5,152.6 880.5,151.6 881.5,150.7 882.5,149.6 883.5,148.6 884.5,147.6 885.5,146.5 886.5,145.4 887.5,144.3 888.5,143.1 889.5,142.0 890.5,140.8 891.5,139.6 892.5,138.4 893.5,137.2 894.5,136.0 895.5,134.7 896.5,133.4 897.5,132.1 898.5,130.8 899.5,129.5 900.5,128.2 901.5,126.9 902.5,125.5 903.5,124.1 904.5,122.7 905.5,121.3 906.5,119.9 907.5,118.5 908.5,117.1 909.5,115.6 910.5,114.2 911.5,112.7 912.5,111.2 913.5,109.7 914.5,108.2 915.5,106.7 916.5,105.2 917.5,103.7 918.5,102.1 919.5,100.6 920.5,99.0 921.5,97.4 922.5,95.9 923.5,94.3 924.5,92.7 925.5,91.1 926.5,89.5 927.5,87.8 928.5,86.2 929.5,84.6 930.5,82.9 931.5,81.3 932.5,79.6 933.5,78.0 934.5,76.3 935.5,74.6 936.5,72.9 937.5,71.2 938.5,69.5 939.5,67.8 940.5,66.1 941.5,64.4 942.5,62.7 943.5,61.0 944.5,59.3 945.5,57.5 946.5,55.8 947.5,54.1 948.5,52.3 949.5,50.6 950.5,48.8 951.5,47.1 952.5,45.3 953.5,43.6 954.5,41.8 955.5,40.1 956.5,38.3 957.5,36.5 958.5,34.8 959.5,33.0 960.5,31.2 961.5,29.5 962.5,27.7 963.5,25.9 964.5,24.2 965.5,22.4 966.5,20.6 967.5,18.9 968.5,17.1 969.5,15.3 970.5,13.5 971.5,11.8 972.5,10.0 973.5,8.3 974.5,6.5 975.5,4.7 975.6,4.5" stroke="url(#g4)" stroke-width="3.2"/>
<path d="M610.6,437.3 611.5,436.6 612.5,435.8 613.5,435.0 614.5,434.1 615.5,433.3 616.5,432.5 617.5,431.7 618.5,430.8 619.5,430.0 620.5,429.2 621.5,428.4 622.5,427.5 623.5,426.7 624.5,425.9 625.5,425.0 626.5,424.2 627.5,423.4 628.5,422.5 629.5,421.7 630.5,420.9 631.5,420.0 632.5,419.2 633.5,418.4 634.5,417.5 635.5,416.7 636.5,415.8 637.5,415.0 638.5,414.2 639.5,413.3 640.5,412.5 641.5,411.6 642.5,410.8 643.5,409.9 644.5,409.1 645.5,408.2 646.5,407.4 647.5,406.5 648.5,405.7 649.5,404.8 650.5,403.9 651.5,403.1 652.5,402.2 653.5,401.4 654.5,400.5 655.5,399.6 656.5,398.8 657.5,397.9 658.5,397.1 659.5,396.2 660.5,395.3 661.5,394.4 662.5,393.6 663.5,392.7 664.5,391.8 665.5,391.0 666.5,390.1 667.5,389.2 668.5,388.3 669.5,387.4 670.5,386.6 671.5,385.7 672.5,384.8 673.5,383.9 674.5,383.0 675.5,382.1 676.5,381.3 677.5,380.4 678.5,379.5 679.5,378.6 680.5,377.7 681.5,376.8 682.5,375.9 683.5,375.0 684.5,374.1 685.5,373.2 686.5,372.3 687.5,371.4 688.5,370.5 689.5,369.6 690.5,368.7 691.5,367.8 692.5,366.9 693.5,366.0 694.5,365.1 695.5,364.1 696.5,363.2 697.5,362.3 698.5,361.4 699.5,360.5 700.5,359.6 701.5,358.6 702.5,357.7 703.5,356.8 704.5,355.9 705.5,354.9 706.5,354.0 707.5,353.1 708.5,352.2 709.5,351.2 710.5,350.3 711.5,349.4 712.5,348.4 713.5,347.5 714.5,346.5 715.5,345.6 716.5,344.7 717.5,343.7 718.5,342.8 719.5,341.8 720.5,340.9 721.5,339.9 722.5,339.0 723.5,338.0 724.5,337.1 725.5,336.1 726.5,335.2 727.5,334.2 728.5,333.2 729.5,332.3 730.5,331.3 731.5,330.3 732.5,329.4 733.5,328.4 734.5,327.4 735.5,326.5 736.5,325.5 737.5,324.5 738.5,323.5 739.5,322.6 740.5,321.6 741.5,320.6 742.5,319.6 743.5,318.6 744.5,317.7 745.5,316.7 746.5,315.7 747.5,314.7 748.5,313.7 749.5,312.7 750.5,311.7 751.5,310.7 752.5,309.7 753.5,308.7 754.5,307.7 755.5,306.7 756.5,305.7 757.5,304.7 758.5,303.7 759.5,302.7 760.5,301.7 761.5,300.7 762.5,299.7 763.5,298.7 764.5,297.6 765.5,296.6 766.5,295.6 767.5,294.6 768.5,293.6 769.5,292.5 770.5,291.5 771.5,290.5 772.5,289.5 773.5,288.4 774.5,287.4 775.5,286.4 776.5,285.3 777.5,284.3 778.5,283.3 779.5,282.2 780.5,281.2 781.5,280.2 782.5,279.1 783.5,278.1 784.5,277.0 785.5,276.0 786.5,274.9 787.5,273.9 788.5,272.8 789.5,271.8 790.5,270.7 791.5,269.7 792.5,268.6 793.5,267.6 794.5,266.5 795.5,265.4 796.5,264.4 797.5,263.3 798.5,262.3 799.5,261.2 800.5,260.1 801.5,259.1 802.5,258.0 803.5,256.9 804.5,255.9 805.5,254.8 806.5,253.7 807.5,252.7 808.5,251.6 809.5,250.5 810.5,249.5 811.5,248.4 812.5,247.3 813.5,246.2 814.5,245.2 815.5,244.1 816.5,243.0 817.5,242.0 818.5,240.9 819.5,239.8 820.5,238.8 821.5,237.7 822.5,236.6 823.5,235.6 824.5,234.5 825.5,233.5 826.5,232.4 827.5,231.3 828.5,230.3 829.5,229.2 830.5,228.2 831.5,227.2 832.5,226.1 833.5,225.1 834.5,224.1 835.5,223.1 836.5,222.1 837.5,221.0 838.5,220.1 839.5,219.1 840.5,218.1 841.5,217.1 842.5,216.2 843.5,215.2 844.5,214.3 845.5,213.4 846.5,212.5 847.5,211.7 848.5,210.8 849.5,210.0 850.5,209.2 851.5,208.5 852.5,207.8 853.5,207.1 854.5,206.5 855.5,205.9 856.5,205.3 857.5,204.8 858.5,204.4 859.5,204.0 860.5,203.7 861.5,203.4 862.5,203.3 863.5,203.1 864.5,203.1 865.5,203.1 866.5,203.2 867.5,203.4 868.5,203.7 869.5,204.0 870.5,204.3 871.5,204.8 872.5,205.3 873.5,205.8 874.5,206.4 875.5,207.0 876.5,207.7 877.5,208.4 878.5,209.2 879.5,210.0 880.5,210.8 881.5,211.6 882.5,212.5 883.5,213.3 884.5,214.2 885.5,215.2 886.5,216.1 887.5,217.0 888.5,218.0 889.5,219.0 890.5,220.0 891.5,220.9 892.5,221.9 893.5,223.0 894.5,224.0 895.5,225.0 896.5,226.0 897.5,227.1 898.5,228.1 899.5,229.1 900.5,230.2 901.5,231.2 902.5,232.3 903.5,233.4 904.5,234.4 905.5,235.5 906.5,236.5 907.5,237.6 908.5,238.7 909.5,239.7 910.5,240.8 911.5,241.9 912.5,242.9 913.5,244.0 914.5,245.1 915.5,246.1 916.5,247.2 917.5,248.3 918.5,249.4 919.5,250.4 920.5,251.5 921.5,252.6 922.5,253.6 923.5,254.7 924.5,255.8 925.5,256.8 926.5,257.9 927.5,259.0 928.5,260.0 929.5,261.1 930.5,262.2 931.5,263.2 932.5,264.3 933.5,265.3 934.5,266.4 935.5,267.5 936.5,268.5 937.5,269.6 938.5,270.6 939.5,271.7 940.5,272.7 941.5,273.8 942.5,274.8 943.5,275.9 944.5,276.9 945.5,278.0 946.5,279.0 947.5,280.0 948.5,281.1 949.5,282.1 950.5,283.2 951.5,284.2 952.5,285.2 953.5,286.3 954.5,287.3 955.5,288.3 956.5,289.4 957.5,290.4 958.5,291.4 959.5,292.4 960.5,293.5 961.5,294.5 962.5,295.5 963.5,296.5 964.5,297.5 965.5,298.6 966.5,299.6 967.5,300.6 968.5,301.6 969.5,302.6 970.5,303.6 971.5,304.6 972.5,305.6 973.5,306.6 974.5,307.6 975.5,308.6 976.5,309.6 977.5,310.6 978.5,311.6 979.5,312.6 980.5,313.6 981.5,314.6 982.5,315.6 983.5,316.6 984.5,317.6 985.5,318.6 986.5,319.5 987.5,320.5 988.5,321.5 989.5,322.5 990.5,323.5 991.5,324.4 992.5,325.4 993.5,326.4 994.5,327.3 995.5,328.3 996.5,329.3 997.5,330.2 998.5,331.2 999.5,332.2 1000.5,333.1 1001.5,334.1 1002.5,335.1 1003.5,336.0 1004.5,337.0 1005.5,337.9 1006.5,338.9 1007.5,339.8 1008.5,340.8 1009.5,341.7 1010.5,342.7 1011.5,343.6 1012.5,344.6 1013.5,345.5 1014.5,346.4 1015.5,347.4 1016.5,348.3 1017.5,349.3 1018.5,350.2 1019.5,351.1 1020.5,352.1 1021.5,353.0 1022.5,353.9 1023.5,354.9 1024.5,355.8 1025.5,356.7 1026.5,357.6 1027.5,358.5 1028.5,359.5 1029.5,360.4 1030.5,361.3 1031.5,362.2 1032.5,363.1 1033.5,364.1 1034.5,365.0 1035.5,365.9 1036.5,366.8 1037.5,367.7 1038.5,368.6 1039.5,369.5 1040.5,370.4 1041.5,371.3 1042.5,372.2 1043.5,373.1 1044.5,374.0 1045.5,374.9 1046.5,375.8 1047.5,376.7 1048.5,377.6 1049.5,378.5 1050.5,379.4 1051.5,380.3 1052.5,381.2 1053.5,382.1 1054.5,382.9 1055.5,383.8 1056.5,384.7 1057.5,385.6 1058.5,386.5 1059.5,387.4 1060.5,388.2 1061.5,389.1 1062.5,390.0 1063.5,390.9 1064.5,391.7 1065.5,392.6 1066.5,393.5 1067.5,394.4 1068.5,395.2 1069.5,396.1 1070.5,397.0 1071.5,397.8 1072.5,398.7 1073.5,399.6 1074.5,400.4 1075.5,401.3 1076.5,402.1 1077.5,403.0 1078.5,403.9 1079.5,404.7 1080.5,405.6 1081.5,406.4 1082.5,407.3 1083.5,408.1 1084.5,409.0 1085.5,409.8 1086.5,410.7 1087.5,411.5 1088.5,412.4 1089.5,413.2 1090.5,414.1 1091.5,414.9 1092.5,415.8 1093.5,416.6 1094.5,417.4 1095.5,418.3 1096.5,419.1 1097.5,420.0 1098.5,420.8 1099.5,421.6 1100.5,422.5 1101.5,423.3 1102.5,424.1 1103.5,425.0 1104.5,425.8 1105.5,426.6 1106.5,427.5 1107.5,428.3 1108.5,429.1 1109.5,429.9 1110.5,430.8 1111.5,431.6 1112.5,432.4 1113.5,433.2 1114.5,434.0 1115.5,434.9 1116.5,435.7 1117.5,436.5 1118.4,437.3" stroke="url(#g5)" stroke-width="3.2"/>
<path d="M628.2,437.3 628.5,437.2 629.5,436.5 630.5,435.9 631.5,435.2 632.5,434.5 633.5,433.9 634.5,433.2 635.5,432.6 636.5,431.9 637.5,431.2 638.5,430.6 639.5,429.9 640.5,429.2 641.5,428.6 642.5,427.9 643.5,427.2 644.5,426.5 645.5,425.8 646.5,425.2 647.5,424.5 648.5,423.8 649.5,423.1 650.5,422.4 651.5,421.8 652.5,421.1 653.5,420.4 654.5,419.7 655.5,419.0 656.5,418.4 657.5,417.7 658.5,417.0 659.5,416.3 660.5,415.6 661.5,414.9 662.5,414.2 663.5,413.6 664.5,412.9 665.5,412.2 666.5,411.5 667.5,410.8 668.5,410.2 669.5,409.5 670.5,408.8 671.5,408.1 672.5,407.4 673.5,406.8 674.5,406.1 675.5,405.4 676.5,404.7 677.5,404.1 678.5,403.4 679.5,402.7 680.5,402.1 681.5,401.4 682.5,400.7 683.5,400.1 684.5,399.4 685.5,398.8 686.5,398.1 687.5,397.4 688.5,396.8 689.5,396.1 690.5,395.5 691.5,394.8 692.5,394.2 693.5,393.6 694.5,392.9 695.5,392.3 696.5,391.6 697.5,391.0 698.5,390.4 699.5,389.8 700.5,389.1 701.5,388.5 702.5,387.9 703.5,387.3 704.5,386.6 705.5,386.0 706.5,385.4 707.5,384.8 708.5,384.2 709.5,383.6 710.5,383.0 711.5,382.4 712.5,381.8 713.5,381.2 714.5,380.7 715.5,380.1 716.5,379.5 717.5,378.9 718.5,378.4 719.5,377.8 720.5,377.2 721.5,376.7 722.5,376.1 723.5,375.5 724.5,375.0 725.5,374.4 726.5,373.9 727.5,373.4 728.5,372.8 729.5,372.3 730.5,371.8 731.5,371.2 732.5,370.7 733.5,370.2 734.5,369.7 735.5,369.2 736.5,368.7 737.5,368.2 738.5,367.7 739.5,367.2 740.5,366.7 741.5,366.2 742.5,365.7 743.5,365.2 744.5,364.8 745.5,364.3 746.5,363.8 747.5,363.4 748.5,362.9 749.5,362.5 750.5,362.0 751.5,361.6 752.5,361.1 753.5,360.7 754.5,360.3 755.5,359.8 756.5,359.4 757.5,359.0 758.5,358.6 759.5,358.2 760.5,357.8 761.5,357.4 762.5,357.0 763.5,356.6 764.5,356.2 765.5,355.8 766.5,355.4 767.5,355.1 768.5,354.7 769.5,354.3 770.5,354.0 771.5,353.6 772.5,353.3 773.5,352.9 774.5,352.6 775.5,352.2 776.5,351.9 777.5,351.6 778.5,351.2 779.5,350.9 780.5,350.6 781.5,350.3 782.5,350.0 783.5,349.7 784.5,349.4 785.5,349.1 786.5,348.8 787.5,348.5 788.5,348.2 789.5,348.0 790.5,347.7 791.5,347.4 792.5,347.2 793.5,346.9 794.5,346.7 795.5,346.4 796.5,346.2 797.5,345.9 798.5,345.7 799.5,345.5 800.5,345.2 801.5,345.0 802.5,344.8 803.5,344.6 804.5,344.4 805.5,344.2 806.5,344.0 807.5,343.8 808.5,343.6 809.5,343.4 810.5,343.2 811.5,343.0 812.5,342.9 813.5,342.7 814.5,342.5 815.5,342.4 816.5,342.2 817.5,342.1 818.5,341.9 819.5,341.8 820.5,341.6 821.5,341.5 822.5,341.3 823.5,341.2 824.5,341.1 825.5,341.0 826.5,340.8 827.5,340.7 828.5,340.6 829.5,340.5 830.5,340.4 831.5,340.3 832.5,340.2 833.5,340.1 834.5,340.0 835.5,339.9 836.5,339.9 837.5,339.8 838.5,339.7 839.5,339.6 840.5,339.6 841.5,339.5 842.5,339.4 843.5,339.4 844.5,339.3 845.5,339.3 846.5,339.2 847.5,339.2 848.5,339.1 849.5,339.1 850.5,339.0 851.5,339.0 852.5,339.0 853.5,338.9 854.5,338.9 855.5,338.9 856.5,338.9 857.5,338.9 858.5,338.8 859.5,338.8 860.5,338.8 861.5,338.8 862.5,338.8 863.5,338.8 864.5,338.8 865.5,338.8 866.5,338.8 867.5,338.8 868.5,338.8 869.5,338.8 870.5,338.8 871.5,338.9 872.5,338.9 873.5,338.9 874.5,338.9 875.5,338.9 876.5,339.0 877.5,339.0 878.5,339.0 879.5,339.1 880.5,339.1 881.5,339.2 882.5,339.2 883.5,339.3 884.5,339.3 885.5,339.4 886.5,339.4 887.5,339.5 888.5,339.6 889.5,339.6 890.5,339.7 891.5,339.8 892.5,339.8 893.5,339.9 894.5,340.0 895.5,340.1 896.5,340.2 897.5,340.3 898.5,340.4 899.5,340.5 900.5,340.6 901.5,340.7 902.5,340.8 903.5,340.9 904.5,341.1 905.5,341.2 906.5,341.3 907.5,341.5 908.5,341.6 909.5,341.7 910.5,341.9 911.5,342.0 912.5,342.2 913.5,342.3 914.5,342.5 915.5,342.7 916.5,342.8 917.5,343.0 918.5,343.2 919.5,343.4 920.5,343.6 921.5,343.8 922.5,344.0 923.5,344.2 924.5,344.4 925.5,344.6 926.5,344.8 927.5,345.0 928.5,345.2 929.5,345.4 930.5,345.7 931.5,345.9 932.5,346.1 933.5,346.4 934.5,346.6 935.5,346.9 936.5,347.1 937.5,347.4 938.5,347.7 939.5,347.9 940.5,348.2 941.5,348.5 942.5,348.8 943.5,349.1 944.5,349.4 945.5,349.7 946.5,350.0 947.5,350.3 948.5,350.6 949.5,350.9 950.5,351.2 951.5,351.5 952.5,351.9 953.5,352.2 954.5,352.5 955.5,352.9 956.5,353.2 957.5,353.6 958.5,353.9 959.5,354.3 960.5,354.7 961.5,355.0 962.5,355.4 963.5,355.8 964.5,356.2 965.5,356.5 966.5,356.9 967.5,357.3 968.5,357.7 969.5,358.1 970.5,358.5 971.5,359.0 972.5,359.4 973.5,359.8 974.5,360.2 975.5,360.7 976.5,361.1 977.5,361.5 978.5,362.0 979.5,362.4 980.5,362.9 981.5,363.3 982.5,363.8 983.5,364.3 984.5,364.7 985.5,365.2 986.5,365.7 987.5,366.2 988.5,366.6 989.5,367.1 990.5,367.6 991.5,368.1 992.5,368.6 993.5,369.1 994.5,369.6 995.5,370.1 996.5,370.7 997.5,371.2 998.5,371.7 999.5,372.2 1000.5,372.8 1001.5,373.3 1002.5,373.8 1003.5,374.4 1004.5,374.9 1005.5,375.5 1006.5,376.0 1007.5,376.6 1008.5,377.2 1009.5,377.7 1010.5,378.3 1011.5,378.9 1012.5,379.4 1013.5,380.0 1014.5,380.6 1015.5,381.2 1016.5,381.8 1017.5,382.4 1018.5,383.0 1019.5,383.6 1020.5,384.2 1021.5,384.8 1022.5,385.4 1023.5,386.0 1024.5,386.6 1025.5,387.2 1026.5,387.8 1027.5,388.4 1028.5,389.1 1029.5,389.7 1030.5,390.3 1031.5,390.9 1032.5,391.6 1033.5,392.2 1034.5,392.9 1035.5,393.5 1036.5,394.1 1037.5,394.8 1038.5,395.4 1039.5,396.1 1040.5,396.7 1041.5,397.4 1042.5,398.0 1043.5,398.7 1044.5,399.4 1045.5,400.0 1046.5,400.7 1047.5,401.3 1048.5,402.0 1049.5,402.7 1050.5,403.3 1051.5,404.0 1052.5,404.7 1053.5,405.4 1054.5,406.0 1055.5,406.7 1056.5,407.4 1057.5,408.1 1058.5,408.7 1059.5,409.4 1060.5,410.1 1061.5,410.8 1062.5,411.5 1063.5,412.1 1064.5,412.8 1065.5,413.5 1066.5,414.2 1067.5,414.9 1068.5,415.5 1069.5,416.2 1070.5,416.9 1071.5,417.6 1072.5,418.3 1073.5,419.0 1074.5,419.7 1075.5,420.3 1076.5,421.0 1077.5,421.7 1078.5,422.4 1079.5,423.1 1080.5,423.7 1081.5,424.4 1082.5,425.1 1083.5,425.8 1084.5,426.5 1085.5,427.1 1086.5,427.8 1087.5,428.5 1088.5,429.2 1089.5,429.8 1090.5,430.5 1091.5,431.2 1092.5,431.8 1093.5,432.5 1094.5,433.2 1095.5,433.8 1096.5,434.5 1097.5,435.1 1098.5,435.8 1099.5,436.4 1100.5,437.1 1100.8,437.3" stroke="url(#g6)" stroke-width="3.2"/>
<path d="M694.2,437.3 695.0,436.6 696.0,435.7 697.0,434.7 698.0,433.8 699.0,432.9 700.0,432.0 701.0,431.1 702.0,430.3 703.0,429.4 704.0,428.5 705.0,427.6 706.0,426.8 707.0,425.9 708.0,425.0 709.0,424.2 710.0,423.3 711.0,422.5 712.0,421.7 713.0,420.8 714.0,420.0 715.0,419.1 716.0,418.3 717.0,417.5 718.0,416.7 719.0,415.9 720.0,415.0 721.0,414.2 722.0,413.4 723.0,412.6 724.0,411.8 725.0,411.0 726.0,410.2 727.0,409.4 728.0,408.6 729.0,407.8 730.0,407.0 731.0,406.2 732.0,405.4 733.0,404.6 734.0,403.8 735.0,403.0 736.0,402.2 737.0,401.4 738.0,400.7 739.0,399.9 740.0,399.1 741.0,398.3 742.0,397.5 743.0,396.7 744.0,396.0 745.0,395.2 746.0,394.4 747.0,393.6 748.0,392.8 749.0,392.1 750.0,391.3 751.0,390.5 752.0,389.7 753.0,388.9 754.0,388.2 755.0,387.4 756.0,386.6 757.0,385.8 758.0,385.1 759.0,384.3 760.0,383.5 761.0,382.8 762.0,382.0 763.0,381.2 764.0,380.4 765.0,379.7 766.0,378.9 767.0,378.1 768.0,377.4 769.0,376.6 770.0,375.8 771.0,375.1 772.0,374.3 773.0,373.6 774.0,372.8 775.0,372.1 776.0,371.3 777.0,370.5 778.0,369.8 779.0,369.1 780.0,368.3 781.0,367.6 782.0,366.8 783.0,366.1 784.0,365.3 785.0,364.6 786.0,363.9 787.0,363.2 788.0,362.4 789.0,361.7 790.0,361.0 791.0,360.3 792.0,359.6 793.0,358.9 794.0,358.2 795.0,357.5 796.0,356.8 797.0,356.1 798.0,355.5 799.0,354.8 800.0,354.1 801.0,353.5 802.0,352.8 803.0,352.2 804.0,351.5 805.0,350.9 806.0,350.2 807.0,349.6 808.0,349.0 809.0,348.4 810.0,347.8 811.0,347.2 812.0,346.6 813.0,346.1 814.0,345.5 815.0,344.9 816.0,344.4 817.0,343.8 818.0,343.3 819.0,342.8 820.0,342.3 821.0,341.8 822.0,341.3 823.0,340.8 824.0,340.3 825.0,339.9 826.0,339.4 827.0,339.0 828.0,338.6 829.0,338.1 830.0,337.7 831.0,337.3 832.0,337.0 833.0,336.6 834.0,336.2 835.0,335.9 836.0,335.6 837.0,335.2 838.0,334.9 839.0,334.6 840.0,334.3 841.0,334.1 842.0,333.8 843.0,333.6 844.0,333.3 845.0,333.1 846.0,332.9 847.0,332.7 848.0,332.5 849.0,332.3 850.0,332.2 851.0,332.0 852.0,331.9 853.0,331.8 854.0,331.6 855.0,331.5 856.0,331.4 857.0,331.4 858.0,331.3 859.0,331.2 860.0,331.2 861.0,331.2 862.0,331.1 863.0,331.1 864.0,331.1 865.0,331.1 866.0,331.1 867.0,331.1 868.0,331.2 869.0,331.2 870.0,331.2 871.0,331.3 872.0,331.4 873.0,331.4 874.0,331.5 875.0,331.6 876.0,331.8 877.0,331.9 878.0,332.0 879.0,332.2 880.0,332.3 881.0,332.5 882.0,332.7 883.0,332.9 884.0,333.1 885.0,333.3 886.0,333.6 887.0,333.8 888.0,334.1 889.0,334.3 890.0,334.6 891.0,334.9 892.0,335.2 893.0,335.6 894.0,335.9 895.0,336.2 896.0,336.6 897.0,337.0 898.0,337.3 899.0,337.7 900.0,338.1 901.0,338.6 902.0,339.0 903.0,339.4 904.0,339.9 905.0,340.3 906.0,340.8 907.0,341.3 908.0,341.8 909.0,342.3 910.0,342.8 911.0,343.3 912.0,343.8 913.0,344.4 914.0,344.9 915.0,345.5 916.0,346.1 917.0,346.6 918.0,347.2 919.0,347.8 920.0,348.4 921.0,349.0 922.0,349.6 923.0,350.2 924.0,350.9 925.0,351.5 926.0,352.2 927.0,352.8 928.0,353.5 929.0,354.1 930.0,354.8 931.0,355.5 932.0,356.1 933.0,356.8 934.0,357.5 935.0,358.2 936.0,358.9 937.0,359.6 938.0,360.3 939.0,361.0 940.0,361.7 941.0,362.4 942.0,363.2 943.0,363.9 944.0,364.6 945.0,365.3 946.0,366.1 947.0,366.8 948.0,367.6 949.0,368.3 950.0,369.1 951.0,369.8 952.0,370.5 953.0,371.3 954.0,372.1 955.0,372.8 956.0,373.6 957.0,374.3 958.0,375.1 959.0,375.8 960.0,376.6 961.0,377.4 962.0,378.1 963.0,378.9 964.0,379.7 965.0,380.4 966.0,381.2 967.0,382.0 968.0,382.8 969.0,383.5 970.0,384.3 971.0,385.1 972.0,385.8 973.0,386.6 974.0,387.4 975.0,388.2 976.0,388.9 977.0,389.7 978.0,390.5 979.0,391.3 980.0,392.1 981.0,392.8 982.0,393.6 983.0,394.4 984.0,395.2 985.0,396.0 986.0,396.7 987.0,397.5 988.0,398.3 989.0,399.1 990.0,399.9 991.0,400.7 992.0,401.4 993.0,402.2 994.0,403.0 995.0,403.8 996.0,404.6 997.0,405.4 998.0,406.2 999.0,407.0 1000.0,407.8 1001.0,408.6 1002.0,409.4 1003.0,410.2 1004.0,411.0 1005.0,411.8 1006.0,412.6 1007.0,413.4 1008.0,414.2 1009.0,415.0 1010.0,415.9 1011.0,416.7 1012.0,417.5 1013.0,418.3 1014.0,419.1 1015.0,420.0 1016.0,420.8 1017.0,421.7 1018.0,422.5 1019.0,423.3 1020.0,424.2 1021.0,425.0 1022.0,425.9 1023.0,426.8 1024.0,427.6 1025.0,428.5 1026.0,429.4 1027.0,430.3 1028.0,431.1 1029.0,432.0 1030.0,432.9 1031.0,433.8 1032.0,434.7 1033.0,435.7 1034.0,436.6 1034.8,437.3" stroke="url(#g7)" stroke-width="3.2"/>
</g>
<g clip-path="url(#cpc)" fill="none" stroke-linecap="round" stroke-linejoin="round">
<path d="M245.3,553.7 246.2,554.4 247.2,555.2 248.2,555.9 249.2,556.7 250.2,557.4 251.2,558.2 252.2,558.9 253.2,559.6 254.2,560.3 255.2,561.0 256.1,561.7 257.1,562.3 258.1,563.0 259.1,563.6 260.1,564.3 261.1,564.9 262.1,565.5 263.1,566.1 264.1,566.7 265.1,567.3 266.1,567.9 267.1,568.4 268.1,569.0 269.1,569.6 270.1,570.1 271.1,570.6 272.1,571.1 273.1,571.6 274.1,572.1 275.1,572.6 276.1,573.1 277.1,573.6 278.1,574.1 279.1,574.5 280.1,575.0 281.1,575.4 282.1,575.8 283.1,576.2 284.1,576.7 285.1,577.1 286.1,577.4 287.1,577.8 288.1,578.2 289.1,578.6 290.1,578.9 291.1,579.3 292.1,579.6 293.1,580.0 294.1,580.3 295.1,580.6 296.1,580.9 297.1,581.2 298.1,581.5 299.1,581.8 300.1,582.1 301.1,582.4 302.1,582.6 303.1,582.9 304.1,583.1 305.1,583.4 306.1,583.6 307.1,583.8 308.1,584.1 309.1,584.3 310.1,584.5 311.1,584.7 312.1,584.9 313.1,585.1 314.1,585.2 315.1,585.4 316.1,585.6 317.1,585.7 318.1,585.9 319.1,586.0 320.1,586.2 321.1,586.3 322.1,586.4 323.1,586.6 324.1,586.7 325.1,586.8 326.1,586.9 327.1,587.0 328.1,587.1 329.1,587.2 330.1,587.2 331.1,587.3 332.1,587.4 333.1,587.4 334.1,587.5 335.1,587.6 336.1,587.6 337.1,587.6 338.1,587.7 339.1,587.7 340.1,587.7 341.1,587.8 342.1,587.8 343.1,587.8 344.1,587.8 345.1,587.8 346.1,587.8 347.1,587.8 348.1,587.8 349.1,587.8 350.1,587.7 351.1,587.7 352.1,587.7 353.1,587.6 354.1,587.6 355.1,587.5 356.1,587.5 357.1,587.4 358.1,587.4 359.1,587.3 360.1,587.2 361.1,587.1 362.1,587.1 363.1,587.0 364.1,586.9 365.1,586.8 366.1,586.6 367.1,586.5 368.1,586.4 369.1,586.3 370.1,586.1 371.1,586.0 372.1,585.8 373.1,585.7 374.1,585.5 375.1,585.4 376.1,585.2 377.1,585.0 378.1,584.8 379.1,584.6 380.1,584.4 381.1,584.2 382.1,584.0 383.1,583.8 384.1,583.5 385.1,583.3 386.1,583.1 387.1,582.8 388.1,582.5 389.1,582.3 390.1,582.0 391.1,581.7 392.1,581.4 393.1,581.1 394.1,580.8 395.1,580.5 396.1,580.2 397.1,579.9 398.1,579.5 399.1,579.2 400.1,578.8 401.1,578.5 402.1,578.1 403.1,577.7 404.1,577.3 405.1,576.9 406.1,576.5 407.1,576.1 408.1,575.7 409.1,575.3 410.1,574.8 411.1,574.4 412.1,573.9 413.1,573.5 414.1,573.0 415.1,572.5 416.1,572.0 417.1,571.5 418.1,571.0 419.1,570.5 420.1,569.9 421.1,569.4 422.1,568.8 423.1,568.3 424.1,567.7 425.1,567.1 426.1,566.5 427.1,565.9 428.1,565.3 429.1,564.7 430.1,564.1 431.1,563.4 432.1,562.8 433.1,562.1 434.1,561.5 435.1,560.8 436.1,560.1 437.1,559.4 438.1,558.7 439.1,558.0 440.1,557.2 441.1,556.5 442.1,555.7 443.1,554.9 444.1,554.2 444.7,553.7" stroke="url(#g8)" stroke-width="3.2"/>
<path d="M232.3,553.7 233.2,555.0 234.2,556.6 235.2,558.1 236.2,559.7 237.2,561.3 238.2,562.9 239.2,564.4 240.2,566.0 241.2,567.6 242.2,569.1 243.2,570.7 244.2,572.2 245.2,573.8 246.2,575.3 247.2,576.9 248.2,578.4 249.2,579.9 250.2,581.5 251.2,583.0 252.2,584.5 253.2,586.0 254.2,587.5 255.2,589.0 256.1,590.5 257.1,592.0 258.1,593.5 259.1,595.0 260.1,596.5 261.1,598.0 262.1,599.4 263.1,600.9 264.1,602.4 265.1,603.8 266.1,605.3 267.1,606.7 268.1,608.1 269.1,609.6 270.1,611.0 271.1,612.4 272.1,613.8 273.1,615.2 274.1,616.6 275.1,618.0 276.1,619.4 277.1,620.8 278.1,622.2 279.1,623.6 280.1,624.9 281.1,626.3 282.1,627.6 283.1,629.0 284.1,630.3 285.1,631.6 286.1,633.0 287.1,634.3 288.1,635.6 289.1,636.9 290.1,638.2 291.1,639.5 292.1,640.7 293.1,642.0 294.1,643.3 295.1,644.5 296.1,645.8 297.1,647.0 298.1,648.2 299.1,649.5 300.1,650.7 301.1,651.9 302.1,653.1 303.1,654.2 304.1,655.4 305.1,656.6 306.1,657.7 307.1,658.9 308.1,660.0 309.1,661.2 310.1,662.3 311.1,663.4 312.1,664.5 313.1,665.6 314.1,666.7 315.1,667.7 316.1,668.8 317.1,669.8 318.1,670.9 319.1,671.9 320.1,672.9 321.1,673.9 322.1,674.9 323.1,675.9 324.1,676.8 325.1,677.8 326.1,678.7 327.1,679.6 328.1,680.5 329.1,681.4 330.1,682.3 331.1,683.1 332.1,683.9 333.1,684.7 334.1,685.5 335.1,686.3 336.1,687.0 337.1,687.6 338.1,688.3 339.1,688.9 340.1,689.4 341.1,689.8 342.1,690.2 343.1,690.4 344.1,690.6 345.1,690.6 346.1,690.6 347.1,690.4 348.1,690.1 349.1,689.7 350.1,689.2 351.1,688.7 352.1,688.1 353.1,687.4 354.1,686.8 355.1,686.0 356.1,685.3 357.1,684.5 358.1,683.7 359.1,682.9 360.1,682.0 361.1,681.1 362.1,680.2 363.1,679.3 364.1,678.4 365.1,677.5 366.1,676.5 367.1,675.6 368.1,674.6 369.1,673.6 370.1,672.6 371.1,671.6 372.1,670.6 373.1,669.5 374.1,668.5 375.1,667.4 376.1,666.3 377.1,665.3 378.1,664.2 379.1,663.1 380.1,661.9 381.1,660.8 382.1,659.7 383.1,658.6 384.1,657.4 385.1,656.2 386.1,655.1 387.1,653.9 388.1,652.7 389.1,651.5 390.1,650.3 391.1,649.1 392.1,647.9 393.1,646.6 394.1,645.4 395.1,644.2 396.1,642.9 397.1,641.6 398.1,640.4 399.1,639.1 400.1,637.8 401.1,636.5 402.1,635.2 403.1,633.9 404.1,632.6 405.1,631.2 406.1,629.9 407.1,628.6 408.1,627.2 409.1,625.9 410.1,624.5 411.1,623.2 412.1,621.8 413.1,620.4 414.1,619.0 415.1,617.6 416.1,616.2 417.1,614.8 418.1,613.4 419.1,612.0 420.1,610.6 421.1,609.1 422.1,607.7 423.1,606.3 424.1,604.8 425.1,603.4 426.1,601.9 427.1,600.5 428.1,599.0 429.1,597.5 430.1,596.0 431.1,594.6 432.1,593.1 433.1,591.6 434.1,590.1 435.1,588.6 436.1,587.1 437.1,585.6 438.1,584.0 439.1,582.5 440.1,581.0 441.1,579.5 442.1,577.9 443.1,576.4 444.1,574.9 445.1,573.3 446.1,571.8 447.1,570.2 448.1,568.7 449.1,567.1 450.1,565.5 451.1,564.0 452.1,562.4 453.1,560.8 454.1,559.3 455.1,557.7 456.1,556.1 457.1,554.5 457.7,553.7" stroke="url(#g9)" stroke-width="3.2"/>
<path d="M86.2,929.6 87.2,928.7 88.2,927.9 89.2,927.1 90.2,926.2 91.2,925.4 92.2,924.6 93.2,923.7 94.2,922.9 95.2,922.0 96.2,921.2 97.2,920.3 98.2,919.5 99.2,918.6 100.2,917.8 101.2,916.9 102.2,916.1 103.2,915.2 104.2,914.4 105.2,913.5 106.2,912.6 107.2,911.8 108.2,910.9 109.2,910.0 110.2,909.2 111.2,908.3 112.2,907.4 113.2,906.5 114.2,905.7 115.2,904.8 116.2,903.9 117.2,903.0 118.2,902.1 119.2,901.2 120.2,900.4 121.2,899.5 122.2,898.6 123.2,897.7 124.2,896.8 125.2,895.9 126.2,895.0 127.2,894.1 128.2,893.2 129.2,892.3 130.2,891.4 131.2,890.5 132.2,889.6 133.2,888.7 134.2,887.8 135.2,886.9 136.2,886.0 137.2,885.1 138.2,884.1 139.2,883.2 140.2,882.3 141.2,881.4 142.2,880.5 143.2,879.6 144.2,878.6 145.2,877.7 146.2,876.8 147.2,875.9 148.2,875.0 149.2,874.0 150.2,873.1 151.2,872.2 152.2,871.3 153.2,870.3 154.2,869.4 155.2,868.5 156.2,867.5 157.2,866.6 158.2,865.7 159.2,864.8 160.2,863.8 161.2,862.9 162.2,862.0 163.2,861.0 164.2,860.1 165.2,859.1 166.2,858.2 167.2,857.3 168.2,856.3 169.2,855.4 170.2,854.4 171.2,853.5 172.2,852.6 173.2,851.6 174.2,850.7 175.2,849.7 176.2,848.8 177.2,847.8 178.2,846.9 179.2,846.0 180.2,845.0 181.2,844.1 182.2,843.1 183.2,842.2 184.2,841.2 185.2,840.3 186.2,839.3 187.2,838.4 188.2,837.4 189.2,836.5 190.2,835.5 191.2,834.6 192.2,833.6 193.2,832.7 194.2,831.7 195.2,830.8 196.2,829.8 197.2,828.9 198.2,827.9 199.2,827.0 200.2,826.0 201.2,825.1 202.2,824.1 203.2,823.2 204.2,822.2 205.2,821.3 206.2,820.3 207.2,819.4 208.2,818.4 209.2,817.5 210.2,816.5 211.2,815.6 212.2,814.6 213.2,813.7 214.2,812.7 215.2,811.8 216.2,810.8 217.2,809.9 218.2,808.9 219.2,808.0 220.2,807.0 221.2,806.1 222.2,805.1 223.2,804.2 224.2,803.2 225.2,802.3 226.2,801.3 227.2,800.4 228.2,799.5 229.2,798.5 230.2,797.6 231.2,796.6 232.2,795.7 233.2,794.7 234.2,793.8 235.2,792.8 236.2,791.9 237.2,791.0 238.2,790.0 239.2,789.1 240.2,788.1 241.2,787.2 242.2,786.3 243.2,785.3 244.2,784.4 245.2,783.5 246.2,782.5 247.2,781.6 248.2,780.7 249.2,779.7 250.2,778.8 251.2,777.9 252.2,776.9 253.2,776.0 254.2,775.1 255.2,774.1 256.1,773.2 257.1,772.3 258.1,771.4 259.1,770.4 260.1,769.5 261.1,768.6 262.1,767.7 263.1,766.8 264.1,765.8 265.1,764.9 266.1,764.0 267.1,763.1 268.1,762.2 269.1,761.3 270.1,760.4 271.1,759.4 272.1,758.5 273.1,757.6 274.1,756.7 275.1,755.8 276.1,754.9 277.1,754.0 278.1,753.1 279.1,752.2 280.1,751.3 281.1,750.4 282.1,749.5 283.1,748.6 284.1,747.7 285.1,746.8 286.1,746.0 287.1,745.1 288.1,744.2 289.1,743.3 290.1,742.4 291.1,741.5 292.1,740.7 293.1,739.8 294.1,738.9 295.1,738.0 296.1,737.2 297.1,736.3 298.1,735.4 299.1,734.5 300.1,733.7 301.1,732.8 302.1,732.0 303.1,731.1 304.1,730.2 305.1,729.4 306.1,728.5 307.1,727.7 308.1,726.8 309.1,726.0 310.1,725.2 311.1,724.3 312.1,723.5 313.1,722.6 314.1,721.8 315.1,721.0 316.1,720.1 317.1,719.3 318.1,718.5 319.1,717.7 320.1,716.9 321.1,716.1 322.1,715.3 323.1,714.4 324.1,713.6 325.1,712.9 326.1,712.1 327.1,711.3 328.1,710.5 329.1,709.7 330.1,709.0 331.1,708.2 332.1,707.5 333.1,706.7 334.1,706.0 335.1,705.3 336.1,704.6 337.1,704.0 338.1,703.3 339.1,702.7 340.1,702.2 341.1,701.7 342.1,701.3 343.1,701.0 344.1,700.8 345.1,700.8 346.1,700.9 347.1,701.1 348.1,701.4 349.1,701.8 350.1,702.4 351.1,702.9 352.1,703.5 353.1,704.2 354.1,704.8 355.1,705.5 356.1,706.2 357.1,707.0 358.1,707.7 359.1,708.4 360.1,709.2 361.1,710.0 362.1,710.7 363.1,711.5 364.1,712.3 365.1,713.1 366.1,713.9 367.1,714.7 368.1,715.5 369.1,716.3 370.1,717.1 371.1,717.9 372.1,718.7 373.1,719.6 374.1,720.4 375.1,721.2 376.1,722.1 377.1,722.9 378.1,723.7 379.1,724.6 380.1,725.4 381.1,726.2 382.1,727.1 383.1,727.9 384.1,728.8 385.1,729.6 386.1,730.5 387.1,731.4 388.1,732.2 389.1,733.1 390.1,733.9 391.1,734.8 392.1,735.7 393.1,736.5 394.1,737.4 395.1,738.3 396.1,739.2 397.1,740.0 398.1,740.9 399.1,741.8 400.1,742.7 401.1,743.6 402.1,744.4 403.1,745.3 404.1,746.2 405.1,747.1 406.1,748.0 407.1,748.9 408.1,749.8 409.1,750.7 410.1,751.6 411.1,752.5 412.1,753.4 413.1,754.3 414.1,755.2 415.1,756.1 416.1,757.0 417.1,757.9 418.1,758.8 419.1,759.7 420.1,760.6 421.1,761.5 422.1,762.5 423.1,763.4 424.1,764.3 425.1,765.2 426.1,766.1 427.1,767.0 428.1,768.0 429.1,768.9 430.1,769.8 431.1,770.7 432.1,771.6 433.1,772.6 434.1,773.5 435.1,774.4 436.1,775.4 437.1,776.3 438.1,777.2 439.1,778.1 440.1,779.1 441.1,780.0 442.1,780.9 443.1,781.9 444.1,782.8 445.1,783.7 446.1,784.7 447.1,785.6 448.1,786.5 449.1,787.5 450.1,788.4 451.1,789.4 452.1,790.3 453.1,791.2 454.1,792.2 455.1,793.1 456.1,794.1 457.1,795.0 458.1,796.0 459.1,796.9 460.1,797.8 461.1,798.8 462.1,799.7 463.1,800.7 464.1,801.6 465.1,802.6 466.1,803.5 467.1,804.5 468.1,805.4 469.1,806.4 470.1,807.3 471.1,808.3 472.1,809.2 473.1,810.2 474.1,811.1 475.1,812.1 476.1,813.0 477.1,814.0 478.1,814.9 479.1,815.9 480.1,816.8 481.1,817.8 482.1,818.7 483.1,819.7 484.1,820.6 485.1,821.6 486.1,822.5 487.1,823.5 488.1,824.4 489.1,825.4 490.1,826.3 491.1,827.3 492.1,828.2 493.1,829.2 494.1,830.1 495.1,831.1 496.1,832.0 497.1,833.0 498.1,833.9 499.1,834.9 500.1,835.8 501.1,836.8 502.1,837.7 503.1,838.7 504.1,839.6 505.1,840.6 506.1,841.5 507.1,842.5 508.1,843.4 509.1,844.4 510.1,845.3 511.1,846.2 512.1,847.2 513.1,848.1 514.1,849.1 515.1,850.0 516.1,851.0 517.1,851.9 518.1,852.8 519.1,853.8 520.1,854.7 521.1,855.7 522.1,856.6 523.1,857.5 524.1,858.5 525.1,859.4 526.1,860.4 527.1,861.3 528.1,862.2 529.1,863.2 530.1,864.1 531.1,865.0 532.1,866.0 533.1,866.9 534.1,867.8 535.1,868.8 536.1,869.7 537.1,870.6 538.1,871.5 539.1,872.5 540.1,873.4 541.1,874.3 542.1,875.2 543.1,876.2 544.1,877.1 545.1,878.0 546.1,878.9 547.1,879.8 548.1,880.8 549.1,881.7 550.1,882.6 551.1,883.5 552.1,884.4 553.1,885.3 554.1,886.2 555.1,887.1 556.1,888.1 557.1,889.0 558.1,889.9 559.1,890.8 560.1,891.7 561.1,892.6 562.1,893.5 563.1,894.4 564.1,895.3 565.1,896.2 566.1,897.1 567.1,897.9 568.1,898.8 569.1,899.7 570.1,900.6 571.1,901.5 572.1,902.4 573.1,903.3 574.1,904.2 575.1,905.0 576.1,905.9 577.1,906.8 578.1,907.7 579.1,908.5 580.1,909.4 581.1,910.3 582.1,911.2 583.1,912.0 584.1,912.9 585.1,913.8 586.1,914.6 587.1,915.5 588.1,916.3 589.1,917.2 590.1,918.0 591.1,918.9 592.1,919.7 593.1,920.6 594.1,921.4 595.1,922.3 596.1,923.1 597.1,924.0 598.1,924.8 599.1,925.7 600.1,926.5 601.1,927.3 602.1,928.2 603.1,929.0 603.9,929.6" stroke="url(#g10)" stroke-width="3.2"/>
<path d="M119.8,986.5 120.2,986.3 121.2,985.6 122.2,984.9 123.2,984.2 124.2,983.5 125.2,982.8 126.2,982.1 127.2,981.5 128.2,980.8 129.2,980.1 130.2,979.4 131.2,978.7 132.2,978.0 133.2,977.3 134.2,976.6 135.2,976.0 136.2,975.3 137.2,974.6 138.2,973.9 139.2,973.2 140.2,972.5 141.2,971.8 142.2,971.2 143.2,970.5 144.2,969.8 145.2,969.1 146.2,968.4 147.2,967.7 148.2,967.0 149.2,966.3 150.2,965.7 151.2,965.0 152.2,964.3 153.2,963.6 154.2,962.9 155.2,962.2 156.2,961.5 157.2,960.8 158.2,960.1 159.2,959.4 160.2,958.7 161.2,958.1 162.2,957.4 163.2,956.7 164.2,956.0 165.2,955.3 166.2,954.6 167.2,953.9 168.2,953.2 169.2,952.5 170.2,951.8 171.2,951.1 172.2,950.4 173.2,949.7 174.2,949.0 175.2,948.3 176.2,947.6 177.2,946.9 178.2,946.2 179.2,945.4 180.2,944.7 181.2,944.0 182.2,943.3 183.2,942.6 184.2,941.9 185.2,941.2 186.2,940.5 187.2,939.8 188.2,939.1 189.2,938.3 190.2,937.6 191.2,936.9 192.2,936.2 193.2,935.5 194.2,934.8 195.2,934.1 196.2,933.3 197.2,932.6 198.2,931.9 199.2,931.2 200.2,930.5 201.2,929.8 202.2,929.0 203.2,928.3 204.2,927.6 205.2,926.9 206.2,926.2 207.2,925.4 208.2,924.7 209.2,924.0 210.2,923.3 211.2,922.6 212.2,921.8 213.2,921.1 214.2,920.4 215.2,919.7 216.2,919.0 217.2,918.2 218.2,917.5 219.2,916.8 220.2,916.1 221.2,915.4 222.2,914.7 223.2,913.9 224.2,913.2 225.2,912.5 226.2,911.8 227.2,911.1 228.2,910.4 229.2,909.7 230.2,909.0 231.2,908.2 232.2,907.5 233.2,906.8 234.2,906.1 235.2,905.4 236.2,904.7 237.2,904.0 238.2,903.3 239.2,902.6 240.2,901.9 241.2,901.2 242.2,900.6 243.2,899.9 244.2,899.2 245.2,898.5 246.2,897.8 247.2,897.1 248.2,896.5 249.2,895.8 250.2,895.1 251.2,894.5 252.2,893.8 253.2,893.1 254.2,892.5 255.2,891.8 256.1,891.2 257.1,890.5 258.1,889.9 259.1,889.2 260.1,888.6 261.1,888.0 262.1,887.3 263.1,886.7 264.1,886.1 265.1,885.5 266.1,884.9 267.1,884.3 268.1,883.7 269.1,883.1 270.1,882.5 271.1,881.9 272.1,881.3 273.1,880.7 274.1,880.1 275.1,879.6 276.1,879.0 277.1,878.5 278.1,877.9 279.1,877.4 280.1,876.8 281.1,876.3 282.1,875.8 283.1,875.3 284.1,874.7 285.1,874.2 286.1,873.7 287.1,873.2 288.1,872.8 289.1,872.3 290.1,871.8 291.1,871.3 292.1,870.9 293.1,870.4 294.1,870.0 295.1,869.5 296.1,869.1 297.1,868.7 298.1,868.3 299.1,867.9 300.1,867.5 301.1,867.1 302.1,866.7 303.1,866.3 304.1,866.0 305.1,865.6 306.1,865.3 307.1,864.9 308.1,864.6 309.1,864.3 310.1,864.0 311.1,863.6 312.1,863.4 313.1,863.1 314.1,862.8 315.1,862.5 316.1,862.3 317.1,862.0 318.1,861.8 319.1,861.5 320.1,861.3 321.1,861.1 322.1,860.9 323.1,860.7 324.1,860.5 325.1,860.3 326.1,860.1 327.1,860.0 328.1,859.8 329.1,859.7 330.1,859.6 331.1,859.4 332.1,859.3 333.1,859.2 334.1,859.1 335.1,859.0 336.1,858.9 337.1,858.9 338.1,858.8 339.1,858.8 340.1,858.7 341.1,858.7 342.1,858.6 343.1,858.6 344.1,858.6 345.1,858.6 346.1,858.6 347.1,858.6 348.1,858.6 349.1,858.7 350.1,858.7 351.1,858.8 352.1,858.8 353.1,858.9 354.1,859.0 355.1,859.0 356.1,859.1 357.1,859.2 358.1,859.3 359.1,859.5 360.1,859.6 361.1,859.7 362.1,859.9 363.1,860.0 364.1,860.2 365.1,860.4 366.1,860.5 367.1,860.7 368.1,860.9 369.1,861.1 370.1,861.4 371.1,861.6 372.1,861.8 373.1,862.1 374.1,862.3 375.1,862.6 376.1,862.9 377.1,863.2 378.1,863.4 379.1,863.7 380.1,864.0 381.1,864.4 382.1,864.7 383.1,865.0 384.1,865.4 385.1,865.7 386.1,866.1 387.1,866.4 388.1,866.8 389.1,867.2 390.1,867.6 391.1,868.0 392.1,868.4 393.1,868.8 394.1,869.2 395.1,869.7 396.1,870.1 397.1,870.6 398.1,871.0 399.1,871.5 400.1,871.9 401.1,872.4 402.1,872.9 403.1,873.4 404.1,873.9 405.1,874.4 406.1,874.9 407.1,875.4 408.1,875.9 409.1,876.5 410.1,877.0 411.1,877.5 412.1,878.1 413.1,878.6 414.1,879.2 415.1,879.7 416.1,880.3 417.1,880.9 418.1,881.5 419.1,882.1 420.1,882.6 421.1,883.2 422.1,883.8 423.1,884.4 424.1,885.0 425.1,885.7 426.1,886.3 427.1,886.9 428.1,887.5 429.1,888.2 430.1,888.8 431.1,889.4 432.1,890.1 433.1,890.7 434.1,891.4 435.1,892.0 436.1,892.7 437.1,893.3 438.1,894.0 439.1,894.7 440.1,895.3 441.1,896.0 442.1,896.7 443.1,897.3 444.1,898.0 445.1,898.7 446.1,899.4 447.1,900.1 448.1,900.8 449.1,901.5 450.1,902.1 451.1,902.8 452.1,903.5 453.1,904.2 454.1,904.9 455.1,905.6 456.1,906.3 457.1,907.0 458.1,907.7 459.1,908.5 460.1,909.2 461.1,909.9 462.1,910.6 463.1,911.3 464.1,912.0 465.1,912.7 466.1,913.4 467.1,914.2 468.1,914.9 469.1,915.6 470.1,916.3 471.1,917.0 472.1,917.7 473.1,918.5 474.1,919.2 475.1,919.9 476.1,920.6 477.1,921.3 478.1,922.1 479.1,922.8 480.1,923.5 481.1,924.2 482.1,924.9 483.1,925.7 484.1,926.4 485.1,927.1 486.1,927.8 487.1,928.5 488.1,929.2 489.1,930.0 490.1,930.7 491.1,931.4 492.1,932.1 493.1,932.8 494.1,933.6 495.1,934.3 496.1,935.0 497.1,935.7 498.1,936.4 499.1,937.1 500.1,937.8 501.1,938.6 502.1,939.3 503.1,940.0 504.1,940.7 505.1,941.4 506.1,942.1 507.1,942.8 508.1,943.5 509.1,944.2 510.1,945.0 511.1,945.7 512.1,946.4 513.1,947.1 514.1,947.8 515.1,948.5 516.1,949.2 517.1,949.9 518.1,950.6 519.1,951.3 520.1,952.0 521.1,952.7 522.1,953.4 523.1,954.1 524.1,954.8 525.1,955.5 526.1,956.2 527.1,956.9 528.1,957.6 529.1,958.3 530.1,959.0 531.1,959.6 532.1,960.3 533.1,961.0 534.1,961.7 535.1,962.4 536.1,963.1 537.1,963.8 538.1,964.5 539.1,965.2 540.1,965.9 541.1,966.6 542.1,967.2 543.1,967.9 544.1,968.6 545.1,969.3 546.1,970.0 547.1,970.7 548.1,971.4 549.1,972.0 550.1,972.7 551.1,973.4 552.1,974.1 553.1,974.8 554.1,975.5 555.1,976.2 556.1,976.9 557.1,977.5 558.1,978.2 559.1,978.9 560.1,979.6 561.1,980.3 562.1,981.0 563.1,981.7 564.1,982.3 565.1,983.0 566.1,983.7 567.1,984.4 568.1,985.1 569.1,985.8 570.1,986.5 570.2,986.5" stroke="url(#g11)" stroke-width="3.2"/>
<path d="M86.2,960.8 87.2,960.3 88.2,959.9 89.2,959.4 90.2,959.0 91.2,958.5 92.2,958.1 93.2,957.6 94.2,957.2 95.2,956.7 96.2,956.3 97.2,955.8 98.2,955.4 99.2,954.9 100.2,954.5 101.2,954.0 102.2,953.6 103.2,953.1 104.2,952.7 105.2,952.2 106.2,951.8 107.2,951.4 108.2,950.9 109.2,950.5 110.2,950.1 111.2,949.6 112.2,949.2 113.2,948.8 114.2,948.4 115.2,948.0 116.2,947.5 117.2,947.1 118.2,946.7 119.2,946.3 120.2,945.9 121.2,945.5 122.2,945.1 123.2,944.7 124.2,944.3 125.2,943.9 126.2,943.5 127.2,943.1 128.2,942.7 129.2,942.3 130.2,942.0 131.2,941.6 132.2,941.2 133.2,940.8 134.2,940.4 135.2,940.1 136.2,939.7 137.2,939.3 138.2,938.9 139.2,938.6 140.2,938.2 141.2,937.9 142.2,937.5 143.2,937.2 144.2,936.8 145.2,936.5 146.2,936.1 147.2,935.8 148.2,935.5 149.2,935.1 150.2,934.8 151.2,934.5 152.2,934.2 153.2,933.9 154.2,933.6 155.2,933.3 156.2,933.0 157.2,932.7 158.2,932.4 159.2,932.1 160.2,931.9 161.2,931.6 162.2,931.3 163.2,931.1 164.2,930.8 165.2,930.6 166.2,930.4 167.2,930.1 168.2,929.9 169.2,929.7 170.2,929.5 171.2,929.3 172.2,929.1 173.2,928.9 174.2,928.7 175.2,928.5 176.2,928.3 177.2,928.2 178.2,928.0 179.2,927.8 180.2,927.7 181.2,927.5 182.2,927.4 183.2,927.3 184.2,927.1 185.2,927.0 186.2,926.9 187.2,926.8 188.2,926.7 189.2,926.6 190.2,926.5 191.2,926.5 192.2,926.4 193.2,926.4 194.2,926.3 195.2,926.3 196.2,926.3 197.2,926.3 198.2,926.3 199.2,926.3 200.2,926.4 201.2,926.4 202.2,926.5 203.2,926.5 204.2,926.6 205.2,926.7 206.2,926.7 207.2,926.8 208.2,926.9 209.2,927.0 210.2,927.1 211.2,927.3 212.2,927.4 213.2,927.5 214.2,927.7 215.2,927.8 216.2,928.0 217.2,928.1 218.2,928.3 219.2,928.5 220.2,928.6 221.2,928.8 222.2,929.0 223.2,929.2 224.2,929.4 225.2,929.6 226.2,929.8 227.2,930.0 228.2,930.2 229.2,930.4 230.2,930.7 231.2,930.9 232.2,931.1 233.2,931.4 234.2,931.6 235.2,931.9 236.2,932.1 237.2,932.4 238.2,932.7 239.2,932.9 240.2,933.2 241.2,933.5 242.2,933.8 243.2,934.1 244.2,934.4 245.2,934.7 246.2,935.0 247.2,935.3 248.2,935.6 249.2,936.0 250.2,936.3 251.2,936.6 252.2,937.0 253.2,937.3 254.2,937.6 255.2,938.0 256.1,938.3 257.1,938.6 258.1,939.0 259.1,939.3 260.1,939.6 261.1,940.0 262.1,940.3 263.1,940.6 264.1,940.9 265.1,941.2 266.1,941.5 267.1,941.8 268.1,942.1 269.1,942.4 270.1,942.7 271.1,943.0 272.1,943.3 273.1,943.6 274.1,943.9 275.1,944.1 276.1,944.4 277.1,944.7 278.1,944.9 279.1,945.2 280.1,945.4 281.1,945.6 282.1,945.9 283.1,946.1 284.1,946.3 285.1,946.5 286.1,946.7 287.1,946.9 288.1,947.1 289.1,947.3 290.1,947.5 291.1,947.6 292.1,947.8 293.1,948.0 294.1,948.1 295.1,948.2 296.1,948.4 297.1,948.5 298.1,948.6 299.1,948.7 300.1,948.8 301.1,948.9 302.1,949.0 303.1,949.1 304.1,949.2 305.1,949.2 306.1,949.3 307.1,949.3 308.1,949.4 309.1,949.4 310.1,949.5 311.1,949.5 312.1,949.5 313.1,949.6 314.1,949.6 315.1,949.6 316.1,949.6 317.1,949.6 318.1,949.7 319.1,949.7 320.1,949.7 321.1,949.7 322.1,949.7 323.1,949.7 324.1,949.7 325.1,949.7 326.1,949.7 327.1,949.7 328.1,949.7 329.1,949.6 330.1,949.6 331.1,949.6 332.1,949.6 333.1,949.6 334.1,949.6 335.1,949.6 336.1,949.6 337.1,949.6 338.1,949.6 339.1,949.6 340.1,949.6 341.1,949.6 342.1,949.6 343.1,949.6 344.1,949.6 345.1,949.6 346.1,949.6 347.1,949.6 348.1,949.6 349.1,949.6 350.1,949.6 351.1,949.6 352.1,949.6 353.1,949.6 354.1,949.6 355.1,949.6 356.1,949.6 357.1,949.6 358.1,949.6 359.1,949.6 360.1,949.6 361.1,949.6 362.1,949.7 363.1,949.7 364.1,949.7 365.1,949.7 366.1,949.7 367.1,949.7 368.1,949.7 369.1,949.7 370.1,949.7 371.1,949.7 372.1,949.7 373.1,949.6 374.1,949.6 375.1,949.6 376.1,949.6 377.1,949.6 378.1,949.5 379.1,949.5 380.1,949.5 381.1,949.4 382.1,949.4 383.1,949.3 384.1,949.3 385.1,949.2 386.1,949.1 387.1,949.1 388.1,949.0 389.1,948.9 390.1,948.8 391.1,948.7 392.1,948.6 393.1,948.5 394.1,948.3 395.1,948.2 396.1,948.1 397.1,947.9 398.1,947.8 399.1,947.6 400.1,947.4 401.1,947.2 402.1,947.1 403.1,946.9 404.1,946.7 405.1,946.5 406.1,946.3 407.1,946.0 408.1,945.8 409.1,945.6 410.1,945.3 411.1,945.1 412.1,944.8 413.1,944.6 414.1,944.3 415.1,944.0 416.1,943.8 417.1,943.5 418.1,943.2 419.1,942.9 420.1,942.6 421.1,942.3 422.1,942.1 423.1,941.7 424.1,941.4 425.1,941.1 426.1,940.8 427.1,940.5 428.1,940.2 429.1,939.9 430.1,939.5 431.1,939.2 432.1,938.9 433.1,938.5 434.1,938.2 435.1,937.9 436.1,937.5 437.1,937.2 438.1,936.9 439.1,936.5 440.1,936.2 441.1,935.9 442.1,935.5 443.1,935.2 444.1,934.9 445.1,934.6 446.1,934.3 447.1,934.0 448.1,933.7 449.1,933.4 450.1,933.1 451.1,932.8 452.1,932.6 453.1,932.3 454.1,932.0 455.1,931.8 456.1,931.5 457.1,931.3 458.1,931.1 459.1,930.8 460.1,930.6 461.1,930.4 462.1,930.2 463.1,930.0 464.1,929.7 465.1,929.5 466.1,929.3 467.1,929.1 468.1,929.0 469.1,928.8 470.1,928.6 471.1,928.4 472.1,928.3 473.1,928.1 474.1,927.9 475.1,927.8 476.1,927.6 477.1,927.5 478.1,927.4 479.1,927.2 480.1,927.1 481.1,927.0 482.1,926.9 483.1,926.8 484.1,926.7 485.1,926.6 486.1,926.6 487.1,926.5 488.1,926.4 489.1,926.4 490.1,926.4 491.1,926.3 492.1,926.3 493.1,926.3 494.1,926.3 495.1,926.3 496.1,926.4 497.1,926.4 498.1,926.4 499.1,926.5 500.1,926.6 501.1,926.6 502.1,926.7 503.1,926.8 504.1,926.9 505.1,927.0 506.1,927.2 507.1,927.3 508.1,927.4 509.1,927.6 510.1,927.7 511.1,927.9 512.1,928.0 513.1,928.2 514.1,928.4 515.1,928.6 516.1,928.7 517.1,928.9 518.1,929.1 519.1,929.3 520.1,929.5 521.1,929.8 522.1,930.0 523.1,930.2 524.1,930.4 525.1,930.7 526.1,930.9 527.1,931.2 528.1,931.4 529.1,931.7 530.1,931.9 531.1,932.2 532.1,932.5 533.1,932.8 534.1,933.1 535.1,933.4 536.1,933.7 537.1,934.0 538.1,934.3 539.1,934.6 540.1,934.9 541.1,935.2 542.1,935.6 543.1,935.9 544.1,936.2 545.1,936.6 546.1,936.9 547.1,937.3 548.1,937.6 549.1,938.0 550.1,938.3 551.1,938.7 552.1,939.1 553.1,939.4 554.1,939.8 555.1,940.2 556.1,940.5 557.1,940.9 558.1,941.3 559.1,941.7 560.1,942.1 561.1,942.5 562.1,942.8 563.1,943.2 564.1,943.6 565.1,944.0 566.1,944.4 567.1,944.8 568.1,945.2 569.1,945.6 570.1,946.0 571.1,946.4 572.1,946.8 573.1,947.3 574.1,947.7 575.1,948.1 576.1,948.5 577.1,948.9 578.1,949.3 579.1,949.8 580.1,950.2 581.1,950.6 582.1,951.1 583.1,951.5 584.1,951.9 585.1,952.4 586.1,952.8 587.1,953.3 588.1,953.7 589.1,954.1 590.1,954.6 591.1,955.0 592.1,955.5 593.1,955.9 594.1,956.4 595.1,956.8 596.1,957.3 597.1,957.8 598.1,958.2 599.1,958.7 600.1,959.1 601.1,959.6 602.1,960.0 603.1,960.5 603.9,960.8" stroke="url(#g12)" stroke-width="3.2"/>
<path d="M204.3,986.5 205.2,986.1 206.2,985.6 207.2,985.1 208.2,984.7 209.2,984.3 210.2,983.8 211.2,983.4 212.2,983.0 213.2,982.6 214.2,982.2 215.2,981.8 216.2,981.4 217.2,981.1 218.2,980.7 219.2,980.3 220.2,980.0 221.2,979.6 222.2,979.3 223.2,978.9 224.2,978.6 225.2,978.3 226.2,978.0 227.2,977.6 228.2,977.3 229.2,977.0 230.2,976.7 231.2,976.4 232.2,976.1 233.2,975.8 234.2,975.5 235.2,975.2 236.2,974.9 237.2,974.6 238.2,974.3 239.2,974.0 240.2,973.7 241.2,973.4 242.2,973.2 243.2,972.9 244.2,972.6 245.2,972.4 246.2,972.1 247.2,971.9 248.2,971.6 249.2,971.4 250.2,971.2 251.2,971.0 252.2,970.7 253.2,970.5 254.2,970.3 255.2,970.2 256.2,970.0 257.2,969.8 258.2,969.6 259.2,969.5 260.2,969.3 261.2,969.2 262.2,969.1 263.2,969.0 264.2,968.8 265.2,968.7 266.2,968.6 267.2,968.6 268.2,968.5 269.2,968.4 270.2,968.4 271.2,968.3 272.2,968.3 273.2,968.2 274.2,968.2 275.2,968.2 276.2,968.2 277.2,968.2 278.2,968.3 279.2,968.3 280.2,968.3 281.2,968.4 282.2,968.5 283.2,968.6 284.2,968.6 285.2,968.7 286.2,968.9 287.2,969.0 288.2,969.1 289.2,969.3 290.2,969.4 291.2,969.6 292.2,969.8 293.2,970.0 294.2,970.2 295.2,970.4 296.2,970.6 297.2,970.8 298.2,971.0 299.2,971.2 300.2,971.4 301.2,971.6 302.2,971.9 303.2,972.1 304.2,972.3 305.2,972.5 306.2,972.7 307.2,972.9 308.2,973.1 309.2,973.3 310.2,973.5 311.2,973.7 312.2,973.9 313.2,974.1 314.2,974.3 315.2,974.5 316.2,974.7 317.2,974.8 318.2,975.0 319.2,975.2 320.2,975.3 321.2,975.5 322.2,975.6 323.2,975.8 324.2,975.9 325.2,976.0 326.2,976.1 327.2,976.3 328.2,976.4 329.2,976.5 330.2,976.6 331.2,976.7 332.2,976.8 333.2,976.9 334.2,976.9 335.2,977.0 336.2,977.1 337.2,977.1 338.2,977.2 339.2,977.2 340.2,977.3 341.2,977.3 342.2,977.3 343.2,977.3 344.2,977.4 345.2,977.4 346.2,977.4 347.2,977.3 348.2,977.3 349.2,977.3 350.2,977.3 351.2,977.2 352.2,977.2 353.2,977.1 354.2,977.1 355.2,977.0 356.2,976.9 357.2,976.8 358.2,976.7 359.2,976.7 360.2,976.6 361.2,976.4 362.2,976.3 363.2,976.2 364.2,976.1 365.2,976.0 366.2,975.8 367.2,975.7 368.2,975.6 369.2,975.4 370.2,975.3 371.2,975.1 372.2,974.9 373.2,974.8 374.2,974.6 375.2,974.4 376.2,974.2 377.2,974.0 378.2,973.8 379.2,973.7 380.2,973.5 381.2,973.3 382.2,973.1 383.2,972.8 384.2,972.6 385.2,972.4 386.2,972.2 387.2,972.0 388.2,971.8 389.2,971.5 390.2,971.3 391.2,971.1 392.2,970.9 393.2,970.7 394.2,970.5 395.2,970.3 396.2,970.1 397.2,969.9 398.2,969.7 399.2,969.5 400.2,969.4 401.2,969.2 402.2,969.1 403.2,968.9 404.2,968.8 405.2,968.7 406.2,968.6 407.2,968.5 408.2,968.4 409.2,968.4 410.2,968.3 411.2,968.3 412.2,968.2 413.2,968.2 414.2,968.2 415.2,968.2 416.2,968.2 417.2,968.3 418.2,968.3 419.2,968.3 420.2,968.4 421.2,968.4 422.2,968.5 423.2,968.6 424.2,968.7 425.2,968.8 426.2,968.9 427.2,969.0 428.2,969.1 429.2,969.3 430.2,969.4 431.2,969.5 432.2,969.7 433.2,969.9 434.2,970.0 435.2,970.2 436.2,970.4 437.2,970.6 438.2,970.8 439.2,971.0 440.2,971.3 441.2,971.5 442.2,971.7 443.2,972.0 444.2,972.2 445.2,972.5 446.2,972.7 447.2,973.0 448.2,973.3 449.2,973.5 450.2,973.8 451.2,974.1 452.2,974.4 453.2,974.7 454.2,975.0 455.2,975.3 456.2,975.6 457.2,975.9 458.2,976.2 459.2,976.5 460.2,976.8 461.2,977.1 462.2,977.4 463.2,977.8 464.2,978.1 465.2,978.4 466.2,978.7 467.2,979.1 468.2,979.4 469.2,979.8 470.2,980.1 471.2,980.5 472.2,980.8 473.2,981.2 474.2,981.6 475.2,982.0 476.2,982.4 477.2,982.8 478.2,983.2 479.2,983.6 480.2,984.0 481.2,984.4 482.2,984.9 483.2,985.3 484.2,985.8 485.2,986.2 485.7,986.5" stroke="url(#g13)" stroke-width="3.2"/>
</g>
<g clip-path="url(#cpd)" fill="none" stroke-linecap="round" stroke-linejoin="round">
<path d="M767.5,553.7 768.5,555.0 769.5,556.5 770.5,557.9 771.5,559.3 772.5,560.7 773.5,562.1 774.5,563.4 775.5,564.8 776.5,566.2 777.5,567.5 778.5,568.9 779.5,570.2 780.5,571.5 781.5,572.8 782.5,574.1 783.5,575.4 784.5,576.7 785.5,577.9 786.5,579.2 787.5,580.4 788.5,581.7 789.5,582.9 790.5,584.1 791.5,585.3 792.5,586.5 793.5,587.6 794.5,588.8 795.5,589.9 796.5,591.1 797.5,592.2 798.5,593.3 799.5,594.4 800.5,595.5 801.5,596.5 802.5,597.6 803.5,598.6 804.5,599.7 805.5,600.7 806.5,601.7 807.5,602.7 808.5,603.7 809.5,604.6 810.5,605.6 811.5,606.5 812.5,607.4 813.5,608.3 814.5,609.2 815.5,610.1 816.5,611.0 817.5,611.8 818.5,612.6 819.5,613.5 820.5,614.3 821.5,615.1 822.5,615.8 823.5,616.6 824.5,617.3 825.5,618.0 826.5,618.7 827.5,619.4 828.5,620.1 829.5,620.8 830.5,621.4 831.5,622.0 832.5,622.7 833.5,623.2 834.5,623.8 835.5,624.4 836.5,624.9 837.5,625.4 838.5,626.0 839.5,626.4 840.5,626.9 841.5,627.4 842.5,627.8 843.5,628.2 844.5,628.6 845.5,629.0 846.5,629.4 847.5,629.7 848.5,630.0 849.5,630.3 850.5,630.6 851.5,630.9 852.5,631.1 853.5,631.4 854.5,631.6 855.5,631.8 856.5,632.0 857.5,632.1 858.5,632.2 859.5,632.3 860.5,632.4 861.5,632.5 862.5,632.6 863.5,632.6 864.5,632.6 865.5,632.6 866.5,632.6 867.5,632.5 868.5,632.5 869.5,632.4 870.5,632.2 871.5,632.1 872.5,632.0 873.5,631.8 874.5,631.6 875.5,631.4 876.5,631.2 877.5,630.9 878.5,630.7 879.5,630.4 880.5,630.1 881.5,629.7 882.5,629.4 883.5,629.0 884.5,628.7 885.5,628.3 886.5,627.8 887.5,627.4 888.5,627.0 889.5,626.5 890.5,626.0 891.5,625.5 892.5,625.0 893.5,624.4 894.5,623.9 895.5,623.3 896.5,622.7 897.5,622.1 898.5,621.5 899.5,620.8 900.5,620.2 901.5,619.5 902.5,618.8 903.5,618.1 904.5,617.4 905.5,616.7 906.5,615.9 907.5,615.1 908.5,614.3 909.5,613.5 910.5,612.7 911.5,611.9 912.5,611.1 913.5,610.2 914.5,609.3 915.5,608.4 916.5,607.5 917.5,606.6 918.5,605.7 919.5,604.7 920.5,603.8 921.5,602.8 922.5,601.8 923.5,600.8 924.5,599.8 925.5,598.8 926.5,597.7 927.5,596.7 928.5,595.6 929.5,594.5 930.5,593.4 931.5,592.3 932.5,591.2 933.5,590.0 934.5,588.9 935.5,587.7 936.5,586.6 937.5,585.4 938.5,584.2 939.5,583.0 940.5,581.8 941.5,580.5 942.5,579.3 943.5,578.1 944.5,576.8 945.5,575.5 946.5,574.2 947.5,572.9 948.5,571.6 949.5,570.3 950.5,569.0 951.5,567.7 952.5,566.3 953.5,565.0 954.5,563.6 955.5,562.2 956.5,560.8 957.5,559.4 958.5,558.0 959.5,556.6 960.5,555.2 961.5,553.7 961.5,553.7" stroke="url(#g14)" stroke-width="3.2"/>
<path d="M605.5,881.9 606.5,881.0 607.5,880.1 608.5,879.3 609.5,878.4 610.5,877.5 611.5,876.6 612.5,875.7 613.5,874.8 614.5,873.9 615.5,873.0 616.5,872.1 617.5,871.1 618.5,870.2 619.5,869.3 620.5,868.4 621.5,867.4 622.5,866.5 623.5,865.6 624.5,864.6 625.5,863.7 626.5,862.7 627.5,861.8 628.5,860.8 629.5,859.9 630.5,858.9 631.5,857.9 632.5,857.0 633.5,856.0 634.5,855.0 635.5,854.1 636.5,853.1 637.5,852.1 638.5,851.1 639.5,850.1 640.5,849.1 641.5,848.2 642.5,847.2 643.5,846.2 644.5,845.2 645.5,844.2 646.5,843.1 647.5,842.1 648.5,841.1 649.5,840.1 650.5,839.1 651.5,838.1 652.5,837.1 653.5,836.0 654.5,835.0 655.5,834.0 656.5,833.0 657.5,831.9 658.5,830.9 659.5,829.9 660.5,828.8 661.5,827.8 662.5,826.8 663.5,825.7 664.5,824.7 665.5,823.6 666.5,822.6 667.5,821.5 668.5,820.5 669.5,819.4 670.5,818.4 671.5,817.3 672.5,816.3 673.5,815.2 674.5,814.1 675.5,813.1 676.5,812.0 677.5,810.9 678.5,809.9 679.5,808.8 680.5,807.8 681.5,806.7 682.5,805.6 683.5,804.5 684.5,803.5 685.5,802.4 686.5,801.3 687.5,800.3 688.5,799.2 689.5,798.1 690.5,797.0 691.5,796.0 692.5,794.9 693.5,793.8 694.5,792.7 695.5,791.6 696.5,790.6 697.5,789.5 698.5,788.4 699.5,787.3 700.5,786.2 701.5,785.2 702.5,784.1 703.5,783.0 704.5,781.9 705.5,780.8 706.5,779.8 707.5,778.7 708.5,777.6 709.5,776.5 710.5,775.4 711.5,774.3 712.5,773.3 713.5,772.2 714.5,771.1 715.5,770.0 716.5,768.9 717.5,767.9 718.5,766.8 719.5,765.7 720.5,764.6 721.5,763.6 722.5,762.5 723.5,761.4 724.5,760.3 725.5,759.3 726.5,758.2 727.5,757.1 728.5,756.0 729.5,755.0 730.5,753.9 731.5,752.8 732.5,751.8 733.5,750.7 734.5,749.6 735.5,748.6 736.5,747.5 737.5,746.5 738.5,745.4 739.5,744.4 740.5,743.3 741.5,742.2 742.5,741.2 743.5,740.1 744.5,739.1 745.5,738.1 746.5,737.0 747.5,736.0 748.5,734.9 749.5,733.9 750.5,732.9 751.5,731.8 752.5,730.8 753.5,729.8 754.5,728.7 755.5,727.7 756.5,726.7 757.5,725.7 758.5,724.7 759.5,723.7 760.5,722.6 761.5,721.6 762.5,720.6 763.5,719.6 764.5,718.6 765.5,717.6 766.5,716.6 767.5,715.7 768.5,714.7 769.5,713.7 770.5,712.7 771.5,711.7 772.5,710.8 773.5,709.8 774.5,708.8 775.5,707.9 776.5,706.9 777.5,706.0 778.5,705.0 779.5,704.1 780.5,703.1 781.5,702.2 782.5,701.3 783.5,700.3 784.5,699.4 785.5,698.5 786.5,697.6 787.5,696.7 788.5,695.8 789.5,694.9 790.5,694.0 791.5,693.1 792.5,692.2 793.5,691.4 794.5,690.5 795.5,689.6 796.5,688.8 797.5,687.9 798.5,687.1 799.5,686.2 800.5,685.4 801.5,684.6 802.5,683.7 803.5,682.9 804.5,682.1 805.5,681.3 806.5,680.5 807.5,679.8 808.5,679.0 809.5,678.2 810.5,677.4 811.5,676.7 812.5,676.0 813.5,675.2 814.5,674.5 815.5,673.8 816.5,673.1 817.5,672.4 818.5,671.7 819.5,671.0 820.5,670.3 821.5,669.6 822.5,669.0 823.5,668.4 824.5,667.7 825.5,667.1 826.5,666.5 827.5,665.9 828.5,665.3 829.5,664.7 830.5,664.2 831.5,663.6 832.5,663.1 833.5,662.5 834.5,662.0 835.5,661.5 836.5,661.1 837.5,660.6 838.5,660.1 839.5,659.7 840.5,659.2 841.5,658.8 842.5,658.4 843.5,658.0 844.5,657.7 845.5,657.3 846.5,657.0 847.5,656.7 848.5,656.4 849.5,656.1 850.5,655.8 851.5,655.6 852.5,655.3 853.5,655.1 854.5,654.9 855.5,654.7 856.5,654.6 857.5,654.4 858.5,654.3 859.5,654.2 860.5,654.1 861.5,654.0 862.5,654.0 863.5,654.0 864.5,654.0 865.5,654.0 866.5,654.0 867.5,654.0 868.5,654.1 869.5,654.2 870.5,654.3 871.5,654.4 872.5,654.6 873.5,654.7 874.5,654.9 875.5,655.1 876.5,655.3 877.5,655.5 878.5,655.8 879.5,656.1 880.5,656.3 881.5,656.6 882.5,657.0 883.5,657.3 884.5,657.6 885.5,658.0 886.5,658.4 887.5,658.8 888.5,659.2 889.5,659.6 890.5,660.1 891.5,660.5 892.5,661.0 893.5,661.5 894.5,662.0 895.5,662.5 896.5,663.0 897.5,663.6 898.5,664.1 899.5,664.7 900.5,665.2 901.5,665.8 902.5,666.4 903.5,667.0 904.5,667.7 905.5,668.3 906.5,668.9 907.5,669.6 908.5,670.2 909.5,670.9 910.5,671.6 911.5,672.3 912.5,673.0 913.5,673.7 914.5,674.4 915.5,675.1 916.5,675.9 917.5,676.6 918.5,677.4 919.5,678.1 920.5,678.9 921.5,679.7 922.5,680.5 923.5,681.3 924.5,682.1 925.5,682.9 926.5,683.7 927.5,684.5 928.5,685.3 929.5,686.1 930.5,687.0 931.5,687.8 932.5,688.7 933.5,689.5 934.5,690.4 935.5,691.3 936.5,692.1 937.5,693.0 938.5,693.9 939.5,694.8 940.5,695.7 941.5,696.6 942.5,697.5 943.5,698.4 944.5,699.3 945.5,700.3 946.5,701.2 947.5,702.1 948.5,703.0 949.5,704.0 950.5,704.9 951.5,705.9 952.5,706.8 953.5,707.8 954.5,708.7 955.5,709.7 956.5,710.7 957.5,711.6 958.5,712.6 959.5,713.6 960.5,714.6 961.5,715.6 962.5,716.5 963.5,717.5 964.5,718.5 965.5,719.5 966.5,720.5 967.5,721.5 968.5,722.5 969.5,723.5 970.5,724.6 971.5,725.6 972.5,726.6 973.5,727.6 974.5,728.6 975.5,729.7 976.5,730.7 977.5,731.7 978.5,732.8 979.5,733.8 980.5,734.8 981.5,735.9 982.5,736.9 983.5,737.9 984.5,739.0 985.5,740.0 986.5,741.1 987.5,742.1 988.5,743.2 989.5,744.2 990.5,745.3 991.5,746.4 992.5,747.4 993.5,748.5 994.5,749.5 995.5,750.6 996.5,751.7 997.5,752.7 998.5,753.8 999.5,754.9 1000.5,755.9 1001.5,757.0 1002.5,758.1 1003.5,759.2 1004.5,760.2 1005.5,761.3 1006.5,762.4 1007.5,763.4 1008.5,764.5 1009.5,765.6 1010.5,766.7 1011.5,767.8 1012.5,768.8 1013.5,769.9 1014.5,771.0 1015.5,772.1 1016.5,773.2 1017.5,774.2 1018.5,775.3 1019.5,776.4 1020.5,777.5 1021.5,778.6 1022.5,779.6 1023.5,780.7 1024.5,781.8 1025.5,782.9 1026.5,784.0 1027.5,785.0 1028.5,786.1 1029.5,787.2 1030.5,788.3 1031.5,789.4 1032.5,790.5 1033.5,791.5 1034.5,792.6 1035.5,793.7 1036.5,794.8 1037.5,795.8 1038.5,796.9 1039.5,798.0 1040.5,799.1 1041.5,800.1 1042.5,801.2 1043.5,802.3 1044.5,803.4 1045.5,804.4 1046.5,805.5 1047.5,806.6 1048.5,807.6 1049.5,808.7 1050.5,809.8 1051.5,810.8 1052.5,811.9 1053.5,813.0 1054.5,814.0 1055.5,815.1 1056.5,816.1 1057.5,817.2 1058.5,818.3 1059.5,819.3 1060.5,820.4 1061.5,821.4 1062.5,822.5 1063.5,823.5 1064.5,824.6 1065.5,825.6 1066.5,826.6 1067.5,827.7 1068.5,828.7 1069.5,829.8 1070.5,830.8 1071.5,831.8 1072.5,832.9 1073.5,833.9 1074.5,834.9 1075.5,835.9 1076.5,837.0 1077.5,838.0 1078.5,839.0 1079.5,840.0 1080.5,841.0 1081.5,842.0 1082.5,843.0 1083.5,844.1 1084.5,845.1 1085.5,846.1 1086.5,847.1 1087.5,848.1 1088.5,849.0 1089.5,850.0 1090.5,851.0 1091.5,852.0 1092.5,853.0 1093.5,854.0 1094.5,854.9 1095.5,855.9 1096.5,856.9 1097.5,857.9 1098.5,858.8 1099.5,859.8 1100.5,860.7 1101.5,861.7 1102.5,862.6 1103.5,863.6 1104.5,864.5 1105.5,865.5 1106.5,866.4 1107.5,867.3 1108.5,868.3 1109.5,869.2 1110.5,870.1 1111.5,871.1 1112.5,872.0 1113.5,872.9 1114.5,873.8 1115.5,874.7 1116.5,875.6 1117.5,876.5 1118.5,877.4 1119.5,878.3 1120.5,879.2 1121.5,880.1 1122.5,880.9 1123.5,881.8 1123.5,881.8" stroke="url(#g15)" stroke-width="3.2"/>
<path d="M605.5,923.1 606.5,922.6 607.5,922.0 608.5,921.5 609.5,921.0 610.5,920.5 611.5,920.0 612.5,919.5 613.5,919.0 614.5,918.6 615.5,918.1 616.5,917.6 617.5,917.1 618.5,916.6 619.5,916.1 620.5,915.7 621.5,915.2 622.5,914.7 623.5,914.3 624.5,913.8 625.5,913.4 626.5,912.9 627.5,912.5 628.5,912.1 629.5,911.6 630.5,911.2 631.5,910.8 632.5,910.4 633.5,910.0 634.5,909.6 635.5,909.2 636.5,908.8 637.5,908.4 638.5,908.0 639.5,907.7 640.5,907.3 641.5,906.9 642.5,906.6 643.5,906.3 644.5,905.9 645.5,905.6 646.5,905.3 647.5,905.0 648.5,904.7 649.5,904.4 650.5,904.2 651.5,903.9 652.5,903.6 653.5,903.4 654.5,903.2 655.5,902.9 656.5,902.7 657.5,902.5 658.5,902.3 659.5,902.1 660.5,901.9 661.5,901.8 662.5,901.6 663.5,901.4 664.5,901.3 665.5,901.1 666.5,901.0 667.5,900.9 668.5,900.8 669.5,900.6 670.5,900.6 671.5,900.5 672.5,900.4 673.5,900.3 674.5,900.3 675.5,900.2 676.5,900.2 677.5,900.2 678.5,900.2 679.5,900.2 680.5,900.2 681.5,900.3 682.5,900.3 683.5,900.3 684.5,900.4 685.5,900.5 686.5,900.5 687.5,900.6 688.5,900.7 689.5,900.8 690.5,900.9 691.5,901.0 692.5,901.2 693.5,901.3 694.5,901.4 695.5,901.6 696.5,901.7 697.5,901.9 698.5,902.0 699.5,902.2 700.5,902.4 701.5,902.6 702.5,902.8 703.5,902.9 704.5,903.1 705.5,903.3 706.5,903.6 707.5,903.8 708.5,904.0 709.5,904.2 710.5,904.4 711.5,904.6 712.5,904.9 713.5,905.1 714.5,905.4 715.5,905.6 716.5,905.9 717.5,906.1 718.5,906.4 719.5,906.7 720.5,907.0 721.5,907.3 722.5,907.5 723.5,907.8 724.5,908.0 725.5,908.1 726.5,908.1 727.5,908.0 728.5,907.8 729.5,907.5 730.5,907.2 731.5,906.7 732.5,906.2 733.5,905.7 734.5,905.2 735.5,904.6 736.5,904.1 737.5,903.6 738.5,903.2 739.5,902.7 740.5,902.2 741.5,901.8 742.5,901.3 743.5,900.9 744.5,900.4 745.5,900.0 746.5,899.5 747.5,899.0 748.5,898.5 749.5,898.0 750.5,897.5 751.5,897.1 752.5,896.6 753.5,896.1 754.5,895.6 755.5,895.1 756.5,894.6 757.5,894.1 758.5,893.6 759.5,893.1 760.5,892.6 761.5,892.1 762.5,891.6 763.5,891.1 764.5,890.5 765.5,890.0 766.5,889.5 767.5,889.0 768.5,888.5 769.5,888.1 770.5,887.6 771.5,887.1 772.5,886.6 773.5,886.1 774.5,885.6 775.5,885.2 776.5,884.7 777.5,884.2 778.5,883.8 779.5,883.3 780.5,882.9 781.5,882.5 782.5,882.1 783.5,881.7 784.5,881.3 785.5,880.9 786.5,880.5 787.5,880.2 788.5,879.8 789.5,879.5 790.5,879.1 791.5,878.8 792.5,878.5 793.5,878.2 794.5,877.8 795.5,877.5 796.5,877.2 797.5,876.9 798.5,876.6 799.5,876.4 800.5,876.1 801.5,875.8 802.5,875.5 803.5,875.3 804.5,875.0 805.5,874.7 806.5,874.5 807.5,874.2 808.5,873.9 809.5,873.7 810.5,873.4 811.5,873.2 812.5,873.0 813.5,872.7 814.5,872.5 815.5,872.3 816.5,872.0 817.5,871.8 818.5,871.6 819.5,871.4 820.5,871.1 821.5,870.9 822.5,870.7 823.5,870.5 824.5,870.3 825.5,870.1 826.5,869.9 827.5,869.7 828.5,869.5 829.5,869.3 830.5,869.1 831.5,869.0 832.5,868.8 833.5,868.6 834.5,868.4 835.5,868.3 836.5,868.1 837.5,868.0 838.5,867.8 839.5,867.7 840.5,867.5 841.5,867.4 842.5,867.2 843.5,867.1 844.5,867.0 845.5,866.8 846.5,866.7 847.5,866.6 848.5,866.5 849.5,866.4 850.5,866.3 851.5,866.2 852.5,866.1 853.5,866.0 854.5,865.9 855.5,865.8 856.5,865.8 857.5,865.7 858.5,865.7 859.5,865.6 860.5,865.6 861.5,865.5 862.5,865.5 863.5,865.5 864.5,865.5 865.5,865.5 866.5,865.5 867.5,865.5 868.5,865.6 869.5,865.6 870.5,865.7 871.5,865.7 872.5,865.8 873.5,865.8 874.5,865.9 875.5,866.0 876.5,866.1 877.5,866.2 878.5,866.3 879.5,866.4 880.5,866.5 881.5,866.6 882.5,866.7 883.5,866.8 884.5,866.9 885.5,867.1 886.5,867.2 887.5,867.4 888.5,867.5 889.5,867.6 890.5,867.8 891.5,867.9 892.5,868.1 893.5,868.3 894.5,868.4 895.5,868.6 896.5,868.8 897.5,868.9 898.5,869.1 899.5,869.3 900.5,869.5 901.5,869.7 902.5,869.9 903.5,870.1 904.5,870.3 905.5,870.5 906.5,870.7 907.5,870.9 908.5,871.1 909.5,871.3 910.5,871.6 911.5,871.8 912.5,872.0 913.5,872.2 914.5,872.5 915.5,872.7 916.5,872.9 917.5,873.2 918.5,873.4 919.5,873.7 920.5,873.9 921.5,874.2 922.5,874.4 923.5,874.7 924.5,875.0 925.5,875.2 926.5,875.5 927.5,875.8 928.5,876.0 929.5,876.3 930.5,876.6 931.5,876.9 932.5,877.2 933.5,877.5 934.5,877.8 935.5,878.1 936.5,878.4 937.5,878.8 938.5,879.1 939.5,879.4 940.5,879.8 941.5,880.1 942.5,880.5 943.5,880.9 944.5,881.2 945.5,881.6 946.5,882.0 947.5,882.4 948.5,882.9 949.5,883.3 950.5,883.7 951.5,884.2 952.5,884.6 953.5,885.1 954.5,885.6 955.5,886.1 956.5,886.5 957.5,887.0 958.5,887.5 959.5,888.0 960.5,888.5 961.5,889.0 962.5,889.5 963.5,890.0 964.5,890.5 965.5,891.0 966.5,891.5 967.5,892.0 968.5,892.5 969.5,893.0 970.5,893.5 971.5,894.0 972.5,894.5 973.5,895.0 974.5,895.5 975.5,896.0 976.5,896.5 977.5,897.0 978.5,897.5 979.5,898.0 980.5,898.5 981.5,899.0 982.5,899.4 983.5,899.9 984.5,900.4 985.5,900.8 986.5,901.3 987.5,901.8 988.5,902.2 989.5,902.7 990.5,903.1 991.5,903.6 992.5,904.1 993.5,904.6 994.5,905.1 995.5,905.6 996.5,906.2 997.5,906.7 998.5,907.1 999.5,907.5 1000.5,907.8 1001.5,908.0 1002.5,908.1 1003.5,908.1 1004.5,908.0 1005.5,907.8 1006.5,907.6 1007.5,907.3 1008.5,907.0 1009.5,906.7 1010.5,906.4 1011.5,906.2 1012.5,905.9 1013.5,905.6 1014.5,905.4 1015.5,905.1 1016.5,904.9 1017.5,904.7 1018.5,904.4 1019.5,904.2 1020.5,904.0 1021.5,903.8 1022.5,903.6 1023.5,903.4 1024.5,903.2 1025.5,903.0 1026.5,902.8 1027.5,902.6 1028.5,902.4 1029.5,902.2 1030.5,902.1 1031.5,901.9 1032.5,901.7 1033.5,901.6 1034.5,901.4 1035.5,901.3 1036.5,901.2 1037.5,901.0 1038.5,900.9 1039.5,900.8 1040.5,900.7 1041.5,900.6 1042.5,900.6 1043.5,900.5 1044.5,900.4 1045.5,900.3 1046.5,900.3 1047.5,900.3 1048.5,900.2 1049.5,900.2 1050.5,900.2 1051.5,900.2 1052.5,900.2 1053.5,900.2 1054.5,900.3 1055.5,900.3 1056.5,900.4 1057.5,900.5 1058.5,900.5 1059.5,900.6 1060.5,900.7 1061.5,900.9 1062.5,901.0 1063.5,901.1 1064.5,901.3 1065.5,901.4 1066.5,901.6 1067.5,901.7 1068.5,901.9 1069.5,902.1 1070.5,902.3 1071.5,902.5 1072.5,902.7 1073.5,902.9 1074.5,903.1 1075.5,903.4 1076.5,903.6 1077.5,903.9 1078.5,904.1 1079.5,904.4 1080.5,904.7 1081.5,905.0 1082.5,905.3 1083.5,905.6 1084.5,905.9 1085.5,906.2 1086.5,906.6 1087.5,906.9 1088.5,907.3 1089.5,907.6 1090.5,908.0 1091.5,908.4 1092.5,908.7 1093.5,909.1 1094.5,909.5 1095.5,909.9 1096.5,910.3 1097.5,910.8 1098.5,911.2 1099.5,911.6 1100.5,912.0 1101.5,912.5 1102.5,912.9 1103.5,913.3 1104.5,913.8 1105.5,914.2 1106.5,914.7 1107.5,915.2 1108.5,915.6 1109.5,916.1 1110.5,916.6 1111.5,917.0 1112.5,917.5 1113.5,918.0 1114.5,918.5 1115.5,919.0 1116.5,919.5 1117.5,920.0 1118.5,920.5 1119.5,921.0 1120.5,921.5 1121.5,922.0 1122.5,922.5 1123.5,923.0 1123.5,923.0" stroke="url(#g16)" stroke-width="3.2"/>
<path d="M605.5,982.7 606.5,982.0 607.5,981.4 608.5,980.7 609.5,980.1 610.5,979.4 611.5,978.8 612.5,978.1 613.5,977.5 614.5,976.8 615.5,976.2 616.5,975.5 617.5,974.9 618.5,974.2 619.5,973.6 620.5,972.9 621.5,972.2 622.5,971.6 623.5,970.9 624.5,970.3 625.5,969.6 626.5,969.0 627.5,968.3 628.5,967.7 629.5,967.0 630.5,966.4 631.5,965.7 632.5,965.1 633.5,964.4 634.5,963.8 635.5,963.2 636.5,962.6 637.5,961.9 638.5,961.3 639.5,960.7 640.5,960.1 641.5,959.4 642.5,958.8 643.5,958.2 644.5,957.6 645.5,957.0 646.5,956.3 647.5,955.7 648.5,955.1 649.5,954.5 650.5,953.9 651.5,953.3 652.5,952.6 653.5,952.0 654.5,951.4 655.5,950.8 656.5,950.2 657.5,949.5 658.5,948.9 659.5,948.3 660.5,947.7 661.5,947.1 662.5,946.4 663.5,945.8 664.5,945.2 665.5,944.6 666.5,943.9 667.5,943.3 668.5,942.7 669.5,942.1 670.5,941.4 671.5,940.8 672.5,940.2 673.5,939.5 674.5,938.9 675.5,938.3 676.5,937.6 677.5,937.0 678.5,936.4 679.5,935.8 680.5,935.1 681.5,934.5 682.5,933.9 683.5,933.2 684.5,932.6 685.5,932.0 686.5,931.4 687.5,930.8 688.5,930.2 689.5,929.6 690.5,929.0 691.5,928.4 692.5,927.9 693.5,927.3 694.5,926.7 695.5,926.2 696.5,925.6 697.5,925.1 698.5,924.6 699.5,924.1 700.5,923.6 701.5,923.1 702.5,922.6 703.5,922.1 704.5,921.6 705.5,921.1 706.5,920.7 707.5,920.2 708.5,919.7 709.5,919.3 710.5,918.8 711.5,918.3 712.5,917.8 713.5,917.4 714.5,916.8 715.5,916.3 716.5,915.8 717.5,915.3 718.5,914.7 719.5,914.3 720.5,913.8 721.5,913.4 722.5,913.1 723.5,912.9 724.5,912.7 725.5,912.7 726.5,912.7 727.5,912.9 728.5,913.2 729.5,913.5 730.5,913.8 731.5,914.1 732.5,914.5 733.5,914.9 734.5,915.3 735.5,915.7 736.5,916.1 737.5,916.6 738.5,917.1 739.5,917.6 740.5,918.1 741.5,918.6 742.5,919.1 743.5,919.7 744.5,920.2 745.5,920.8 746.5,921.4 747.5,921.9 748.5,922.5 749.5,923.1 750.5,923.6 751.5,924.2 752.5,924.7 753.5,925.3 754.5,925.8 755.5,926.3 756.5,926.7 757.5,927.2 758.5,927.5 759.5,927.9 760.5,928.2 761.5,928.4 762.5,928.6 763.5,928.7 764.5,928.7 765.5,928.6 766.5,928.4 767.5,928.2 768.5,927.9 769.5,927.6 770.5,927.3 771.5,927.0 772.5,926.7 773.5,926.5 774.5,926.2 775.5,925.9 776.5,925.7 777.5,925.5 778.5,925.2 779.5,925.0 780.5,924.7 781.5,924.4 782.5,924.1 783.5,923.8 784.5,923.5 785.5,923.2 786.5,922.9 787.5,922.6 788.5,922.3 789.5,922.0 790.5,921.7 791.5,921.4 792.5,921.2 793.5,920.9 794.5,920.6 795.5,920.4 796.5,920.1 797.5,919.9 798.5,919.6 799.5,919.4 800.5,919.1 801.5,918.9 802.5,918.7 803.5,918.5 804.5,918.2 805.5,918.0 806.5,917.8 807.5,917.6 808.5,917.4 809.5,917.2 810.5,917.0 811.5,916.8 812.5,916.6 813.5,916.4 814.5,916.2 815.5,916.1 816.5,915.9 817.5,915.7 818.5,915.6 819.5,915.4 820.5,915.3 821.5,915.1 822.5,915.0 823.5,914.8 824.5,914.7 825.5,914.6 826.5,914.5 827.5,914.3 828.5,914.2 829.5,914.1 830.5,914.0 831.5,913.9 832.5,913.8 833.5,913.7 834.5,913.7 835.5,913.6 836.5,913.5 837.5,913.4 838.5,913.4 839.5,913.3 840.5,913.2 841.5,913.2 842.5,913.1 843.5,913.1 844.5,913.0 845.5,913.0 846.5,913.0 847.5,912.9 848.5,912.9 849.5,912.9 850.5,912.8 851.5,912.8 852.5,912.8 853.5,912.8 854.5,912.8 855.5,912.7 856.5,912.7 857.5,912.7 858.5,912.7 859.5,912.7 860.5,912.7 861.5,912.7 862.5,912.7 863.5,912.7 864.5,912.7 865.5,912.7 866.5,912.7 867.5,912.7 868.5,912.7 869.5,912.7 870.5,912.7 871.5,912.7 872.5,912.7 873.5,912.7 874.5,912.7 875.5,912.8 876.5,912.8 877.5,912.8 878.5,912.8 879.5,912.9 880.5,912.9 881.5,912.9 882.5,912.9 883.5,913.0 884.5,913.0 885.5,913.1 886.5,913.1 887.5,913.2 888.5,913.2 889.5,913.3 890.5,913.4 891.5,913.4 892.5,913.5 893.5,913.6 894.5,913.6 895.5,913.7 896.5,913.8 897.5,913.9 898.5,914.0 899.5,914.1 900.5,914.2 901.5,914.3 902.5,914.5 903.5,914.6 904.5,914.7 905.5,914.8 906.5,915.0 907.5,915.1 908.5,915.3 909.5,915.4 910.5,915.6 911.5,915.7 912.5,915.9 913.5,916.1 914.5,916.2 915.5,916.4 916.5,916.6 917.5,916.8 918.5,917.0 919.5,917.2 920.5,917.4 921.5,917.6 922.5,917.8 923.5,918.0 924.5,918.2 925.5,918.4 926.5,918.7 927.5,918.9 928.5,919.1 929.5,919.4 930.5,919.6 931.5,919.8 932.5,920.1 933.5,920.3 934.5,920.6 935.5,920.9 936.5,921.1 937.5,921.4 938.5,921.7 939.5,922.0 940.5,922.3 941.5,922.6 942.5,922.9 943.5,923.2 944.5,923.5 945.5,923.8 946.5,924.1 947.5,924.4 948.5,924.7 949.5,924.9 950.5,925.2 951.5,925.4 952.5,925.7 953.5,925.9 954.5,926.2 955.5,926.4 956.5,926.7 957.5,927.0 958.5,927.3 959.5,927.6 960.5,927.9 961.5,928.2 962.5,928.4 963.5,928.6 964.5,928.7 965.5,928.7 966.5,928.6 967.5,928.5 968.5,928.2 969.5,927.9 970.5,927.6 971.5,927.2 972.5,926.8 973.5,926.3 974.5,925.8 975.5,925.3 976.5,924.8 977.5,924.3 978.5,923.7 979.5,923.1 980.5,922.6 981.5,922.0 982.5,921.4 983.5,920.9 984.5,920.3 985.5,919.7 986.5,919.2 987.5,918.7 988.5,918.1 989.5,917.6 990.5,917.1 991.5,916.6 992.5,916.2 993.5,915.7 994.5,915.3 995.5,914.9 996.5,914.5 997.5,914.2 998.5,913.8 999.5,913.5 1000.5,913.2 1001.5,912.9 1002.5,912.8 1003.5,912.7 1004.5,912.7 1005.5,912.8 1006.5,913.1 1007.5,913.4 1008.5,913.8 1009.5,914.2 1010.5,914.7 1011.5,915.2 1012.5,915.7 1013.5,916.3 1014.5,916.8 1015.5,917.3 1016.5,917.8 1017.5,918.3 1018.5,918.7 1019.5,919.2 1020.5,919.7 1021.5,920.2 1022.5,920.6 1023.5,921.1 1024.5,921.6 1025.5,922.1 1026.5,922.5 1027.5,923.0 1028.5,923.5 1029.5,924.0 1030.5,924.5 1031.5,925.0 1032.5,925.6 1033.5,926.1 1034.5,926.7 1035.5,927.2 1036.5,927.8 1037.5,928.4 1038.5,929.0 1039.5,929.5 1040.5,930.1 1041.5,930.7 1042.5,931.3 1043.5,932.0 1044.5,932.6 1045.5,933.2 1046.5,933.8 1047.5,934.4 1048.5,935.1 1049.5,935.7 1050.5,936.3 1051.5,936.9 1052.5,937.6 1053.5,938.2 1054.5,938.8 1055.5,939.5 1056.5,940.1 1057.5,940.7 1058.5,941.4 1059.5,942.0 1060.5,942.6 1061.5,943.2 1062.5,943.9 1063.5,944.5 1064.5,945.1 1065.5,945.7 1066.5,946.4 1067.5,947.0 1068.5,947.6 1069.5,948.2 1070.5,948.9 1071.5,949.5 1072.5,950.1 1073.5,950.7 1074.5,951.3 1075.5,952.0 1076.5,952.6 1077.5,953.2 1078.5,953.8 1079.5,954.4 1080.5,955.0 1081.5,955.7 1082.5,956.3 1083.5,956.9 1084.5,957.5 1085.5,958.1 1086.5,958.7 1087.5,959.4 1088.5,960.0 1089.5,960.6 1090.5,961.2 1091.5,961.9 1092.5,962.5 1093.5,963.1 1094.5,963.8 1095.5,964.4 1096.5,965.0 1097.5,965.7 1098.5,966.3 1099.5,966.9 1100.5,967.6 1101.5,968.2 1102.5,968.9 1103.5,969.5 1104.5,970.2 1105.5,970.9 1106.5,971.5 1107.5,972.2 1108.5,972.8 1109.5,973.5 1110.5,974.1 1111.5,974.8 1112.5,975.5 1113.5,976.1 1114.5,976.8 1115.5,977.4 1116.5,978.1 1117.5,978.7 1118.5,979.4 1119.5,980.0 1120.5,980.7 1121.5,981.3 1122.5,982.0 1123.5,982.6 1123.5,982.6" stroke="url(#g17)" stroke-width="3.2"/>
<path d="M654.0,986.5 654.5,986.3 655.5,985.7 656.5,985.2 657.5,984.6 658.5,984.1 659.5,983.6 660.5,983.0 661.5,982.5 662.5,981.9 663.5,981.4 664.5,980.8 665.5,980.2 666.5,979.7 667.5,979.1 668.5,978.6 669.5,978.0 670.5,977.4 671.5,976.9 672.5,976.3 673.5,975.7 674.5,975.1 675.5,974.6 676.5,974.0 677.5,973.4 678.5,972.9 679.5,972.3 680.5,971.7 681.5,971.2 682.5,970.6 683.5,970.0 684.5,969.5 685.5,968.9 686.5,968.4 687.5,967.8 688.5,967.2 689.5,966.7 690.5,966.1 691.5,965.6 692.5,965.1 693.5,964.5 694.5,964.0 695.5,963.4 696.5,962.9 697.5,962.4 698.5,961.8 699.5,961.3 700.5,960.8 701.5,960.2 702.5,959.7 703.5,959.2 704.5,958.6 705.5,958.1 706.5,957.6 707.5,957.1 708.5,956.5 709.5,956.0 710.5,955.5 711.5,955.0 712.5,954.4 713.5,953.9 714.5,953.4 715.5,952.9 716.5,952.4 717.5,951.8 718.5,951.3 719.5,950.8 720.5,950.3 721.5,949.8 722.5,949.3 723.5,948.7 724.5,948.2 725.5,947.7 726.5,947.2 727.5,946.7 728.5,946.2 729.5,945.7 730.5,945.2 731.5,944.7 732.5,944.2 733.5,943.8 734.5,943.3 735.5,942.9 736.5,942.5 737.5,942.1 738.5,941.7 739.5,941.3 740.5,941.0 741.5,940.7 742.5,940.4 743.5,940.1 744.5,939.9 745.5,939.6 746.5,939.3 747.5,939.0 748.5,938.7 749.5,938.4 750.5,938.1 751.5,937.7 752.5,937.3 753.5,936.9 754.5,936.4 755.5,936.0 756.5,935.7 757.5,935.3 758.5,935.1 759.5,934.9 760.5,934.8 761.5,934.8 762.5,934.9 763.5,935.1 764.5,935.4 765.5,935.8 766.5,936.2 767.5,936.6 768.5,937.1 769.5,937.7 770.5,938.2 771.5,938.8 772.5,939.4 773.5,940.1 774.5,940.8 775.5,941.4 776.5,942.1 777.5,942.9 778.5,943.6 779.5,944.4 780.5,945.2 781.5,946.0 782.5,946.8 783.5,947.7 784.5,948.5 785.5,949.4 786.5,950.2 787.5,951.1 788.5,951.9 789.5,952.7 790.5,953.5 791.5,954.3 792.5,955.1 793.5,955.8 794.5,956.6 795.5,957.3 796.5,958.0 797.5,958.7 798.5,959.4 799.5,960.1 800.5,960.8 801.5,961.4 802.5,962.1 803.5,962.7 804.5,963.4 805.5,964.0 806.5,964.6 807.5,965.2 808.5,965.8 809.5,966.4 810.5,967.0 811.5,967.6 812.5,968.2 813.5,968.7 814.5,969.3 815.5,969.8 816.5,970.4 817.5,970.9 818.5,971.4 819.5,971.9 820.5,972.5 821.5,973.0 822.5,973.4 823.5,973.9 824.5,974.4 825.5,974.8 826.5,975.3 827.5,975.7 828.5,976.2 829.5,976.6 830.5,977.0 831.5,977.4 832.5,977.7 833.5,978.1 834.5,978.5 835.5,978.8 836.5,979.1 837.5,979.5 838.5,979.8 839.5,980.1 840.5,980.4 841.5,980.6 842.5,980.9 843.5,981.2 844.5,981.4 845.5,981.6 846.5,981.9 847.5,982.1 848.5,982.3 849.5,982.5 850.5,982.6 851.5,982.8 852.5,983.0 853.5,983.1 854.5,983.2 855.5,983.3 856.5,983.4 857.5,983.5 858.5,983.6 859.5,983.7 860.5,983.7 861.5,983.8 862.5,983.8 863.5,983.8 864.5,983.8 865.5,983.8 866.5,983.8 867.5,983.8 868.5,983.7 869.5,983.7 870.5,983.6 871.5,983.5 872.5,983.4 873.5,983.3 874.5,983.2 875.5,983.1 876.5,983.0 877.5,982.8 878.5,982.7 879.5,982.5 880.5,982.3 881.5,982.1 882.5,981.9 883.5,981.7 884.5,981.4 885.5,981.2 886.5,980.9 887.5,980.7 888.5,980.4 889.5,980.1 890.5,979.8 891.5,979.5 892.5,979.2 893.5,978.8 894.5,978.5 895.5,978.1 896.5,977.8 897.5,977.4 898.5,977.0 899.5,976.6 900.5,976.2 901.5,975.8 902.5,975.3 903.5,974.9 904.5,974.4 905.5,974.0 906.5,973.5 907.5,973.0 908.5,972.5 909.5,972.0 910.5,971.5 911.5,971.0 912.5,970.4 913.5,969.9 914.5,969.3 915.5,968.8 916.5,968.2 917.5,967.7 918.5,967.1 919.5,966.5 920.5,965.9 921.5,965.3 922.5,964.7 923.5,964.1 924.5,963.4 925.5,962.8 926.5,962.2 927.5,961.5 928.5,960.8 929.5,960.2 930.5,959.5 931.5,958.8 932.5,958.1 933.5,957.4 934.5,956.7 935.5,955.9 936.5,955.2 937.5,954.4 938.5,953.6 939.5,952.8 940.5,952.0 941.5,951.2 942.5,950.3 943.5,949.5 944.5,948.6 945.5,947.7 946.5,946.9 947.5,946.1 948.5,945.3 949.5,944.5 950.5,943.7 951.5,942.9 952.5,942.2 953.5,941.5 954.5,940.8 955.5,940.2 956.5,939.5 957.5,938.9 958.5,938.3 959.5,937.7 960.5,937.2 961.5,936.7 962.5,936.2 963.5,935.8 964.5,935.4 965.5,935.1 966.5,934.9 967.5,934.8 968.5,934.8 969.5,934.9 970.5,935.0 971.5,935.3 972.5,935.6 973.5,936.0 974.5,936.4 975.5,936.8 976.5,937.2 977.5,937.6 978.5,938.0 979.5,938.4 980.5,938.7 981.5,939.0 982.5,939.3 983.5,939.6 984.5,939.8 985.5,940.1 986.5,940.4 987.5,940.7 988.5,941.0 989.5,941.3 990.5,941.7 991.5,942.0 992.5,942.4 993.5,942.8 994.5,943.3 995.5,943.7 996.5,944.2 997.5,944.7 998.5,945.2 999.5,945.7 1000.5,946.2 1001.5,946.7 1002.5,947.2 1003.5,947.7 1004.5,948.2 1005.5,948.7 1006.5,949.2 1007.5,949.7 1008.5,950.2 1009.5,950.8 1010.5,951.3 1011.5,951.8 1012.5,952.3 1013.5,952.8 1014.5,953.3 1015.5,953.9 1016.5,954.4 1017.5,954.9 1018.5,955.4 1019.5,956.0 1020.5,956.5 1021.5,957.0 1022.5,957.5 1023.5,958.1 1024.5,958.6 1025.5,959.1 1026.5,959.6 1027.5,960.2 1028.5,960.7 1029.5,961.2 1030.5,961.8 1031.5,962.3 1032.5,962.8 1033.5,963.4 1034.5,963.9 1035.5,964.5 1036.5,965.0 1037.5,965.5 1038.5,966.1 1039.5,966.6 1040.5,967.2 1041.5,967.7 1042.5,968.3 1043.5,968.9 1044.5,969.4 1045.5,970.0 1046.5,970.5 1047.5,971.1 1048.5,971.7 1049.5,972.2 1050.5,972.8 1051.5,973.4 1052.5,973.9 1053.5,974.5 1054.5,975.1 1055.5,975.7 1056.5,976.2 1057.5,976.8 1058.5,977.4 1059.5,977.9 1060.5,978.5 1061.5,979.1 1062.5,979.6 1063.5,980.2 1064.5,980.8 1065.5,981.3 1066.5,981.9 1067.5,982.4 1068.5,983.0 1069.5,983.5 1070.5,984.1 1071.5,984.6 1072.5,985.1 1073.5,985.7 1074.5,986.2 1075.0,986.5" stroke="url(#g18)" stroke-width="3.2"/>
</g>
<circle cx="256.8" cy="313.0" r="5.7" fill="#0000ff"/>
<circle cx="749.5" cy="312.0" r="5.7" fill="#0000ff"/>
<circle cx="169.0" cy="856.6" r="5.7" fill="#0000ff"/>
<circle cx="633.7" cy="856.2" r="5.7" fill="#0000ff"/>
<rect x="1005.1" y="563.7" width="34.9" height="146.5" fill="url(#cbg)"/>
<text transform="translate(26.56,132.17) scale(1.0171,1.0662)" font-size="48">10</text>
<text transform="translate(50.97,261.97) scale(1.0171,1.0662)" font-size="48">0</text>
<text transform="translate(10.29,391.57) scale(1.0171,1.0662)" font-size="48">-10</text>
<text transform="translate(26.56,681.37) scale(1.0171,1.0662)" font-size="48">10</text>
<text transform="translate(50.97,811.17) scale(1.0171,1.0662)" font-size="48">0</text>
<text transform="translate(10.29,940.77) scale(1.0171,1.0662)" font-size="48">-10</text>
<text transform="translate(159.06,490.85) scale(1.0171,1.0662)" font-size="48">-0.2</text>
<text transform="translate(315.19,490.85) scale(1.0171,1.0662)" font-size="48">0.0</text>
<text transform="translate(464.20,490.85) scale(1.0171,1.0662)" font-size="48">0.2</text>
<text transform="translate(694.16,490.85) scale(1.0171,1.0662)" font-size="48">-0.2</text>
<text transform="translate(834.69,490.85) scale(1.0171,1.0662)" font-size="48">0.0</text>
<text transform="translate(968.10,490.85) scale(1.0171,1.0662)" font-size="48">0.2</text>
<text transform="translate(174.26,1040.05) scale(1.0171,1.0662)" font-size="48">-0.2</text>
<text transform="translate(315.19,1040.05) scale(1.0171,1.0662)" font-size="48">0.0</text>
<text transform="translate(449.00,1040.05) scale(1.0171,1.0662)" font-size="48">0.2</text>
<text transform="translate(654.08,1040.05) scale(1.0171,1.0662)" font-size="48">-0.3</text>
<text transform="translate(834.69,1040.05) scale(1.0171,1.0662)" font-size="48">0.0</text>
<text transform="translate(1007.41,1040.05) scale(1.0171,1.0662)" font-size="48">0.3</text>
<text transform="translate(98.82,57.27) scale(0.9909,1.0368)" font-size="48">(a)</text>
<text transform="translate(618.12,57.27) scale(0.9909,1.0368)" font-size="48">(b)</text>
<text transform="translate(98.82,606.47) scale(0.9909,1.0368)" font-size="48">(c)</text>
<text transform="translate(618.12,606.47) scale(0.9909,1.0368)" font-size="48">(d)</text>
<text transform="translate(107.84,131.70) scale(1.0381,1.0426)" font-size="36"><tspan font-style="italic">B</tspan></text>
<text transform="translate(130.02,141.64) scale(1.0077,1.0209)" font-size="25"><tspan font-style="italic">y</tspan></text>
<text transform="translate(139.08,129.75) scale(1.1522,0.9000)" font-size="36">=</text>
<text transform="translate(160.10,131.20) scale(1.0020,1.0000)" font-size="36">0.0 T</text>
<text transform="translate(627.14,131.70) scale(1.0381,1.0426)" font-size="36"><tspan font-style="italic">B</tspan></text>
<text transform="translate(649.32,141.64) scale(1.0077,1.0209)" font-size="25"><tspan font-style="italic">y</tspan></text>
<text transform="translate(658.38,129.75) scale(1.1522,0.9000)" font-size="36">=</text>
<text transform="translate(677.64,131.20) scale(1.0020,1.0000)" font-size="36">10.0 T</text>
<text transform="translate(107.84,680.90) scale(1.0381,1.0426)" font-size="36"><tspan font-style="italic">B</tspan></text>
<text transform="translate(130.02,690.84) scale(1.0077,1.0209)" font-size="25"><tspan font-style="italic">y</tspan></text>
<text transform="translate(139.08,678.95) scale(1.1522,0.9000)" font-size="36">=</text>
<text transform="translate(160.10,680.40) scale(1.0020,1.0000)" font-size="36">20.0 T</text>
<text transform="translate(627.14,680.90) scale(1.0381,1.0426)" font-size="36"><tspan font-style="italic">B</tspan></text>
<text transform="translate(649.32,690.84) scale(1.0077,1.0209)" font-size="25"><tspan font-style="italic">y</tspan></text>
<text transform="translate(658.38,678.95) scale(1.1522,0.9000)" font-size="36">=</text>
<text transform="translate(679.15,680.40) scale(1.0020,1.0000)" font-size="36">30.0 T</text>
<text transform="translate(223.72,297.70) scale(0.9686,1.0088)" font-size="43" fill="#0000ff" style="fill:#0000ff">A</text>
<text transform="translate(719.82,298.50) scale(1.0218,1.0286)" font-size="43" fill="#0000ff" style="fill:#0000ff">B</text>
<text transform="translate(141.46,842.47) scale(1.0531,1.0621)" font-size="43" fill="#0000ff" style="fill:#0000ff">C</text>
<text transform="translate(618.71,843.80) scale(1.0357,1.0500)" font-size="43" fill="#0000ff" style="fill:#0000ff">D</text>
<text transform="translate(262.96,522.30) scale(1.0927,1.0376)" font-size="48"><tspan font-style="italic">k</tspan></text>
<text transform="translate(283.99,532.60) scale(0.9873,0.9481)" font-size="44"><tspan font-style="italic">x</tspan></text>
<text transform="translate(314.59,522.23) scale(1.0703,1.0492)" font-size="36">(</text>
<text transform="translate(325.88,521.80) scale(1.1192,1.1556)" font-size="43">nm</text>
<text transform="translate(386.61,508.37) scale(0.9951,1.1333)" font-size="40">-</text>
<text transform="translate(402.02,507.20) scale(0.7643,1.1010)" font-size="40">1</text>
<text transform="translate(419.41,521.76) scale(1.1135,1.0450)" font-size="36">)</text>
<text transform="translate(782.46,522.30) scale(1.0927,1.0376)" font-size="48"><tspan font-style="italic">k</tspan></text>
<text transform="translate(803.49,532.60) scale(0.9873,0.9481)" font-size="44"><tspan font-style="italic">x</tspan></text>
<text transform="translate(834.09,522.23) scale(1.0703,1.0492)" font-size="36">(</text>
<text transform="translate(845.38,521.80) scale(1.1192,1.1556)" font-size="43">nm</text>
<text transform="translate(906.11,508.37) scale(0.9951,1.1333)" font-size="40">-</text>
<text transform="translate(921.53,507.20) scale(0.7643,1.1010)" font-size="40">1</text>
<text transform="translate(938.91,521.76) scale(1.1135,1.0450)" font-size="36">)</text>
<text transform="translate(262.96,1071.50) scale(1.0927,1.0376)" font-size="48"><tspan font-style="italic">k</tspan></text>
<text transform="translate(283.99,1081.80) scale(0.9873,0.9481)" font-size="44"><tspan font-style="italic">x</tspan></text>
<text transform="translate(314.59,1071.43) scale(1.0703,1.0492)" font-size="36">(</text>
<text transform="translate(325.88,1071.00) scale(1.1192,1.1556)" font-size="43">nm</text>
<text transform="translate(386.61,1057.57) scale(0.9951,1.1333)" font-size="40">-</text>
<text transform="translate(402.02,1056.40) scale(0.7643,1.1010)" font-size="40">1</text>
<text transform="translate(419.41,1070.96) scale(1.1135,1.0450)" font-size="36">)</text>
<text transform="translate(782.46,1071.50) scale(1.0927,1.0376)" font-size="48"><tspan font-style="italic">k</tspan></text>
<text transform="translate(803.49,1081.80) scale(0.9873,0.9481)" font-size="44"><tspan font-style="italic">x</tspan></text>
<text transform="translate(834.09,1071.43) scale(1.0703,1.0492)" font-size="36">(</text>
<text transform="translate(845.38,1071.00) scale(1.1192,1.1556)" font-size="43">nm</text>
<text transform="translate(906.11,1057.57) scale(0.9951,1.1333)" font-size="40">-</text>
<text transform="translate(921.53,1056.40) scale(0.7643,1.1010)" font-size="40">1</text>
<text transform="translate(938.91,1070.96) scale(1.1135,1.0450)" font-size="36">)</text>
<text transform="translate(32.94,327.18) rotate(-90) scale(1.0370,0.9908)" font-size="48"><tspan font-style="italic">E</tspan> (meV)</text>
<text transform="translate(32.94,876.38) rotate(-90) scale(1.0370,0.9908)" font-size="48"><tspan font-style="italic">E</tspan> (meV)</text>
<text transform="translate(1047.14,575.39) scale(0.9248,1.0146)" font-size="30">0.27</text>
<text transform="translate(1047.15,646.99) scale(0.9202,1.0146)" font-size="30">0.14</text>
<text transform="translate(1047.03,718.70) scale(0.9354,0.9902)" font-size="30">0.019</text>
<text transform="translate(1001.81,742.30) scale(1.2864,1.0560)" font-size="46"><tspan font-style="italic">ρ</tspan></text>
<text transform="translate(1024.89,754.64) scale(1.0479,1.0237)" font-size="31">corners</text>
</svg></body></html>
